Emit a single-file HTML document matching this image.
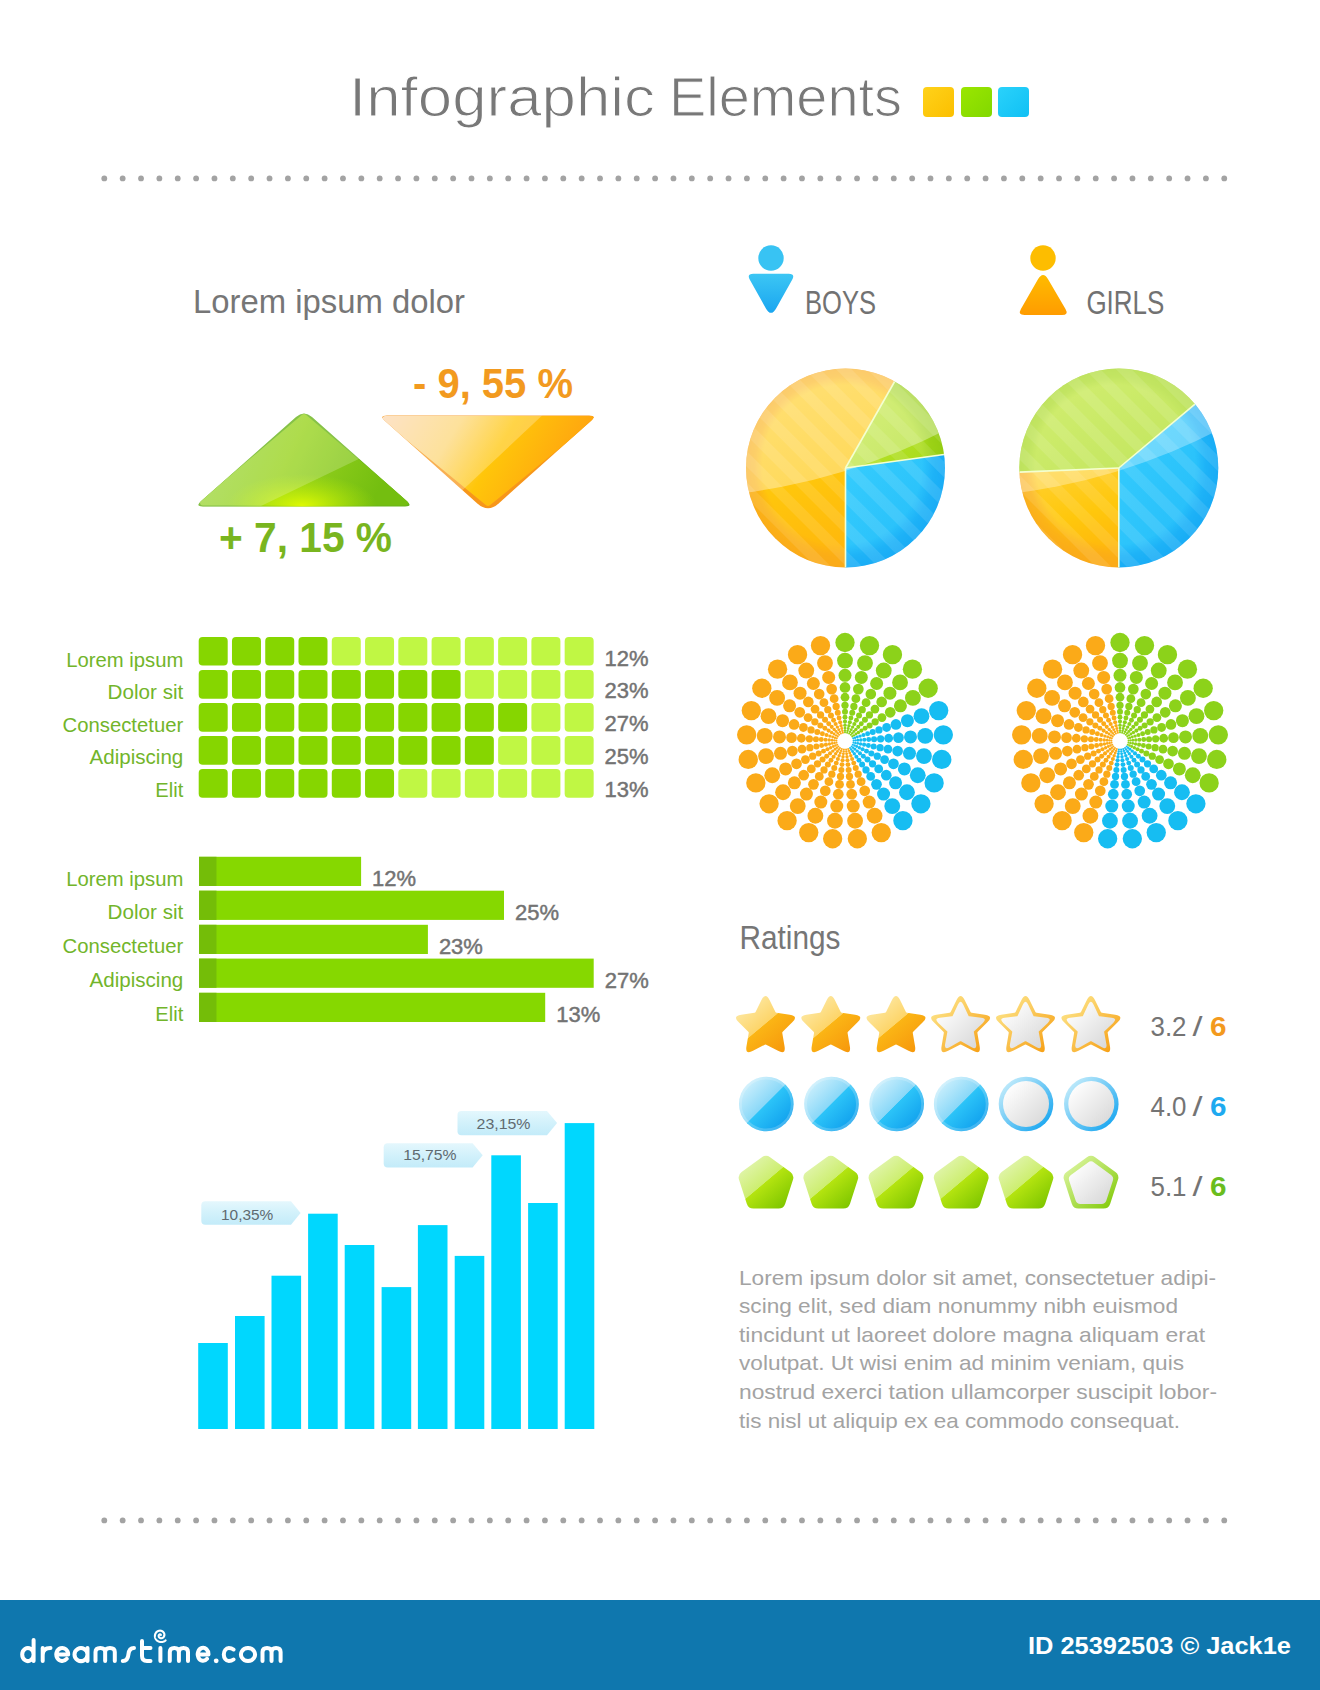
<!DOCTYPE html><html><head><meta charset="utf-8"><style>html,body{margin:0;padding:0;background:#fff;width:1320px;height:1690px;overflow:hidden}</style></head><body><svg width="1320" height="1690" viewBox="0 0 1320 1690" style="display:block;font-family:'Liberation Sans', sans-serif">
<defs>
<linearGradient id="gOrTri" x1="0" y1="0" x2="1" y2="0.25">
 <stop offset="0" stop-color="#fdd9b0"/><stop offset="0.35" stop-color="#fdd77a"/><stop offset="0.6" stop-color="#ffc60a"/><stop offset="1" stop-color="#ffa210"/></linearGradient>
<linearGradient id="gGrTri" x1="0" y1="0" x2="1" y2="0.2">
 <stop offset="0" stop-color="#a2d850"/><stop offset="0.5" stop-color="#9ad420"/><stop offset="1" stop-color="#74be10"/></linearGradient>
<radialGradient id="gGrGlow" cx="0.5" cy="0.5" r="0.5">
 <stop offset="0" stop-color="#e8ff00" stop-opacity="0.9"/><stop offset="1" stop-color="#c0f000" stop-opacity="0"/></radialGradient>
<linearGradient id="gSqY" x1="0" y1="0" x2="1" y2="1"><stop offset="0" stop-color="#ffd21a"/><stop offset="1" stop-color="#fbbf00"/></linearGradient>
<linearGradient id="gSqG" x1="0" y1="0" x2="1" y2="1"><stop offset="0" stop-color="#9ae600"/><stop offset="1" stop-color="#82d800"/></linearGradient>
<linearGradient id="gSqB" x1="0" y1="0" x2="1" y2="1"><stop offset="0" stop-color="#2ad2fb"/><stop offset="1" stop-color="#10c0f4"/></linearGradient>
<linearGradient id="gBoyT" x1="0" y1="0" x2="0" y2="1"><stop offset="0" stop-color="#3cc6f4"/><stop offset="1" stop-color="#1aa6f0"/></linearGradient>
<linearGradient id="gGirlT" x1="0" y1="0" x2="0" y2="1"><stop offset="0" stop-color="#ffbb00"/><stop offset="1" stop-color="#ff9c00"/></linearGradient>
</defs>
<text x="349" y="116" font-size="55" fill="#787878" font-weight="normal" text-anchor="start" textLength="306" lengthAdjust="spacingAndGlyphs" stroke="#ffffff" stroke-width="1.1">Infographic</text>
<text x="669" y="116" font-size="55" fill="#787878" font-weight="normal" text-anchor="start" textLength="233" lengthAdjust="spacingAndGlyphs" stroke="#ffffff" stroke-width="1.1">Elements</text>
<rect x="923" y="87" width="31" height="30" rx="4" fill="url(#gSqY)"/>
<rect x="961" y="87" width="31" height="30" rx="4" fill="url(#gSqG)"/>
<rect x="998" y="87" width="31" height="30" rx="4" fill="url(#gSqB)"/>
<circle cx="104.30" cy="178.4" r="2.9" fill="#a3a3a3"/>
<circle cx="122.66" cy="178.4" r="2.9" fill="#a3a3a3"/>
<circle cx="141.02" cy="178.4" r="2.9" fill="#a3a3a3"/>
<circle cx="159.38" cy="178.4" r="2.9" fill="#a3a3a3"/>
<circle cx="177.74" cy="178.4" r="2.9" fill="#a3a3a3"/>
<circle cx="196.10" cy="178.4" r="2.9" fill="#a3a3a3"/>
<circle cx="214.46" cy="178.4" r="2.9" fill="#a3a3a3"/>
<circle cx="232.82" cy="178.4" r="2.9" fill="#a3a3a3"/>
<circle cx="251.18" cy="178.4" r="2.9" fill="#a3a3a3"/>
<circle cx="269.54" cy="178.4" r="2.9" fill="#a3a3a3"/>
<circle cx="287.90" cy="178.4" r="2.9" fill="#a3a3a3"/>
<circle cx="306.26" cy="178.4" r="2.9" fill="#a3a3a3"/>
<circle cx="324.62" cy="178.4" r="2.9" fill="#a3a3a3"/>
<circle cx="342.98" cy="178.4" r="2.9" fill="#a3a3a3"/>
<circle cx="361.34" cy="178.4" r="2.9" fill="#a3a3a3"/>
<circle cx="379.70" cy="178.4" r="2.9" fill="#a3a3a3"/>
<circle cx="398.06" cy="178.4" r="2.9" fill="#a3a3a3"/>
<circle cx="416.42" cy="178.4" r="2.9" fill="#a3a3a3"/>
<circle cx="434.78" cy="178.4" r="2.9" fill="#a3a3a3"/>
<circle cx="453.14" cy="178.4" r="2.9" fill="#a3a3a3"/>
<circle cx="471.50" cy="178.4" r="2.9" fill="#a3a3a3"/>
<circle cx="489.86" cy="178.4" r="2.9" fill="#a3a3a3"/>
<circle cx="508.22" cy="178.4" r="2.9" fill="#a3a3a3"/>
<circle cx="526.58" cy="178.4" r="2.9" fill="#a3a3a3"/>
<circle cx="544.94" cy="178.4" r="2.9" fill="#a3a3a3"/>
<circle cx="563.30" cy="178.4" r="2.9" fill="#a3a3a3"/>
<circle cx="581.66" cy="178.4" r="2.9" fill="#a3a3a3"/>
<circle cx="600.02" cy="178.4" r="2.9" fill="#a3a3a3"/>
<circle cx="618.38" cy="178.4" r="2.9" fill="#a3a3a3"/>
<circle cx="636.74" cy="178.4" r="2.9" fill="#a3a3a3"/>
<circle cx="655.10" cy="178.4" r="2.9" fill="#a3a3a3"/>
<circle cx="673.46" cy="178.4" r="2.9" fill="#a3a3a3"/>
<circle cx="691.82" cy="178.4" r="2.9" fill="#a3a3a3"/>
<circle cx="710.18" cy="178.4" r="2.9" fill="#a3a3a3"/>
<circle cx="728.54" cy="178.4" r="2.9" fill="#a3a3a3"/>
<circle cx="746.90" cy="178.4" r="2.9" fill="#a3a3a3"/>
<circle cx="765.26" cy="178.4" r="2.9" fill="#a3a3a3"/>
<circle cx="783.62" cy="178.4" r="2.9" fill="#a3a3a3"/>
<circle cx="801.98" cy="178.4" r="2.9" fill="#a3a3a3"/>
<circle cx="820.34" cy="178.4" r="2.9" fill="#a3a3a3"/>
<circle cx="838.70" cy="178.4" r="2.9" fill="#a3a3a3"/>
<circle cx="857.06" cy="178.4" r="2.9" fill="#a3a3a3"/>
<circle cx="875.42" cy="178.4" r="2.9" fill="#a3a3a3"/>
<circle cx="893.78" cy="178.4" r="2.9" fill="#a3a3a3"/>
<circle cx="912.14" cy="178.4" r="2.9" fill="#a3a3a3"/>
<circle cx="930.50" cy="178.4" r="2.9" fill="#a3a3a3"/>
<circle cx="948.86" cy="178.4" r="2.9" fill="#a3a3a3"/>
<circle cx="967.22" cy="178.4" r="2.9" fill="#a3a3a3"/>
<circle cx="985.58" cy="178.4" r="2.9" fill="#a3a3a3"/>
<circle cx="1003.94" cy="178.4" r="2.9" fill="#a3a3a3"/>
<circle cx="1022.30" cy="178.4" r="2.9" fill="#a3a3a3"/>
<circle cx="1040.66" cy="178.4" r="2.9" fill="#a3a3a3"/>
<circle cx="1059.02" cy="178.4" r="2.9" fill="#a3a3a3"/>
<circle cx="1077.38" cy="178.4" r="2.9" fill="#a3a3a3"/>
<circle cx="1095.74" cy="178.4" r="2.9" fill="#a3a3a3"/>
<circle cx="1114.10" cy="178.4" r="2.9" fill="#a3a3a3"/>
<circle cx="1132.46" cy="178.4" r="2.9" fill="#a3a3a3"/>
<circle cx="1150.82" cy="178.4" r="2.9" fill="#a3a3a3"/>
<circle cx="1169.18" cy="178.4" r="2.9" fill="#a3a3a3"/>
<circle cx="1187.54" cy="178.4" r="2.9" fill="#a3a3a3"/>
<circle cx="1205.90" cy="178.4" r="2.9" fill="#a3a3a3"/>
<circle cx="1224.26" cy="178.4" r="2.9" fill="#a3a3a3"/>
<circle cx="104.30" cy="1520.4" r="2.9" fill="#a3a3a3"/>
<circle cx="122.66" cy="1520.4" r="2.9" fill="#a3a3a3"/>
<circle cx="141.02" cy="1520.4" r="2.9" fill="#a3a3a3"/>
<circle cx="159.38" cy="1520.4" r="2.9" fill="#a3a3a3"/>
<circle cx="177.74" cy="1520.4" r="2.9" fill="#a3a3a3"/>
<circle cx="196.10" cy="1520.4" r="2.9" fill="#a3a3a3"/>
<circle cx="214.46" cy="1520.4" r="2.9" fill="#a3a3a3"/>
<circle cx="232.82" cy="1520.4" r="2.9" fill="#a3a3a3"/>
<circle cx="251.18" cy="1520.4" r="2.9" fill="#a3a3a3"/>
<circle cx="269.54" cy="1520.4" r="2.9" fill="#a3a3a3"/>
<circle cx="287.90" cy="1520.4" r="2.9" fill="#a3a3a3"/>
<circle cx="306.26" cy="1520.4" r="2.9" fill="#a3a3a3"/>
<circle cx="324.62" cy="1520.4" r="2.9" fill="#a3a3a3"/>
<circle cx="342.98" cy="1520.4" r="2.9" fill="#a3a3a3"/>
<circle cx="361.34" cy="1520.4" r="2.9" fill="#a3a3a3"/>
<circle cx="379.70" cy="1520.4" r="2.9" fill="#a3a3a3"/>
<circle cx="398.06" cy="1520.4" r="2.9" fill="#a3a3a3"/>
<circle cx="416.42" cy="1520.4" r="2.9" fill="#a3a3a3"/>
<circle cx="434.78" cy="1520.4" r="2.9" fill="#a3a3a3"/>
<circle cx="453.14" cy="1520.4" r="2.9" fill="#a3a3a3"/>
<circle cx="471.50" cy="1520.4" r="2.9" fill="#a3a3a3"/>
<circle cx="489.86" cy="1520.4" r="2.9" fill="#a3a3a3"/>
<circle cx="508.22" cy="1520.4" r="2.9" fill="#a3a3a3"/>
<circle cx="526.58" cy="1520.4" r="2.9" fill="#a3a3a3"/>
<circle cx="544.94" cy="1520.4" r="2.9" fill="#a3a3a3"/>
<circle cx="563.30" cy="1520.4" r="2.9" fill="#a3a3a3"/>
<circle cx="581.66" cy="1520.4" r="2.9" fill="#a3a3a3"/>
<circle cx="600.02" cy="1520.4" r="2.9" fill="#a3a3a3"/>
<circle cx="618.38" cy="1520.4" r="2.9" fill="#a3a3a3"/>
<circle cx="636.74" cy="1520.4" r="2.9" fill="#a3a3a3"/>
<circle cx="655.10" cy="1520.4" r="2.9" fill="#a3a3a3"/>
<circle cx="673.46" cy="1520.4" r="2.9" fill="#a3a3a3"/>
<circle cx="691.82" cy="1520.4" r="2.9" fill="#a3a3a3"/>
<circle cx="710.18" cy="1520.4" r="2.9" fill="#a3a3a3"/>
<circle cx="728.54" cy="1520.4" r="2.9" fill="#a3a3a3"/>
<circle cx="746.90" cy="1520.4" r="2.9" fill="#a3a3a3"/>
<circle cx="765.26" cy="1520.4" r="2.9" fill="#a3a3a3"/>
<circle cx="783.62" cy="1520.4" r="2.9" fill="#a3a3a3"/>
<circle cx="801.98" cy="1520.4" r="2.9" fill="#a3a3a3"/>
<circle cx="820.34" cy="1520.4" r="2.9" fill="#a3a3a3"/>
<circle cx="838.70" cy="1520.4" r="2.9" fill="#a3a3a3"/>
<circle cx="857.06" cy="1520.4" r="2.9" fill="#a3a3a3"/>
<circle cx="875.42" cy="1520.4" r="2.9" fill="#a3a3a3"/>
<circle cx="893.78" cy="1520.4" r="2.9" fill="#a3a3a3"/>
<circle cx="912.14" cy="1520.4" r="2.9" fill="#a3a3a3"/>
<circle cx="930.50" cy="1520.4" r="2.9" fill="#a3a3a3"/>
<circle cx="948.86" cy="1520.4" r="2.9" fill="#a3a3a3"/>
<circle cx="967.22" cy="1520.4" r="2.9" fill="#a3a3a3"/>
<circle cx="985.58" cy="1520.4" r="2.9" fill="#a3a3a3"/>
<circle cx="1003.94" cy="1520.4" r="2.9" fill="#a3a3a3"/>
<circle cx="1022.30" cy="1520.4" r="2.9" fill="#a3a3a3"/>
<circle cx="1040.66" cy="1520.4" r="2.9" fill="#a3a3a3"/>
<circle cx="1059.02" cy="1520.4" r="2.9" fill="#a3a3a3"/>
<circle cx="1077.38" cy="1520.4" r="2.9" fill="#a3a3a3"/>
<circle cx="1095.74" cy="1520.4" r="2.9" fill="#a3a3a3"/>
<circle cx="1114.10" cy="1520.4" r="2.9" fill="#a3a3a3"/>
<circle cx="1132.46" cy="1520.4" r="2.9" fill="#a3a3a3"/>
<circle cx="1150.82" cy="1520.4" r="2.9" fill="#a3a3a3"/>
<circle cx="1169.18" cy="1520.4" r="2.9" fill="#a3a3a3"/>
<circle cx="1187.54" cy="1520.4" r="2.9" fill="#a3a3a3"/>
<circle cx="1205.90" cy="1520.4" r="2.9" fill="#a3a3a3"/>
<circle cx="1224.26" cy="1520.4" r="2.9" fill="#a3a3a3"/>
<text x="193" y="313" font-size="33" fill="#767676" font-weight="normal" text-anchor="start" textLength="272" lengthAdjust="spacingAndGlyphs">Lorem ipsum dolor</text>
<defs><clipPath id="cOr"><path d="M384.85,420.74 Q379.00,415.50 386.85,415.50 L589.15,415.50 Q597.00,415.50 591.15,420.74 L498.67,503.46 Q488.00,513.00 477.33,503.46 Z"/></clipPath><clipPath id="cGr"><path d="M296.05,417.04 Q304.00,410.00 311.95,417.04 L407.07,501.25 Q413.00,506.50 405.09,506.50 L202.91,506.50 Q195.00,506.50 200.93,501.25 Z"/></clipPath></defs>
<path d="M384.85,420.74 Q379.00,415.50 386.85,415.50 L589.15,415.50 Q597.00,415.50 591.15,420.74 L498.67,503.46 Q488.00,513.00 477.33,503.46 Z" fill="#f7961a"/>
<g clip-path="url(#cOr)"><path d="M385.5,419 L591,419 L488,503 Z" fill="url(#gOrTri)" stroke="url(#gOrTri)" stroke-width="6" stroke-linejoin="round"/><path d="M370,410 L548,410 L452,500 L370,500 Z" fill="#fff" fill-opacity="0.25"/></g>
<path d="M296.05,417.04 Q304.00,410.00 311.95,417.04 L407.07,501.25 Q413.00,506.50 405.09,506.50 L202.91,506.50 Q195.00,506.50 200.93,501.25 Z" fill="#68b31a"/>
<g clip-path="url(#cGr)"><path d="M304,417 L405,502.5 L203,502.5 Z" fill="url(#gGrTri)" stroke="url(#gGrTri)" stroke-width="6" stroke-linejoin="round"/><ellipse cx="302" cy="506" rx="75" ry="32" fill="url(#gGrGlow)"/><path d="M300,405 L365,456 L261,506 L190,506 L190,405 Z" fill="#fff" fill-opacity="0.2"/></g>
<text x="413" y="398" font-size="42" fill="#f29a1f" font-weight="bold" text-anchor="start" textLength="160" lengthAdjust="spacingAndGlyphs">- 9, 55 %</text>
<text x="219" y="552" font-size="42" fill="#79b51f" font-weight="bold" text-anchor="start" textLength="173" lengthAdjust="spacingAndGlyphs">+ 7, 15 %</text>
<circle cx="771" cy="258" r="12.7" fill="#38c3f3"/>
<path d="M749.84,279.76 Q746.50,273.80 753.33,273.80 L788.67,273.80 Q795.50,273.80 792.16,279.76 L776.23,308.16 Q771.00,317.50 765.77,308.16 Z" fill="url(#gBoyT)"/>
<circle cx="1043" cy="258" r="12.7" fill="#fdbd00"/>
<path d="M1037.84,279.50 Q1043.00,270.50 1048.23,279.45 L1065.48,308.98 Q1069.00,315.00 1062.03,315.00 L1024.40,315.00 Q1017.50,315.00 1020.93,309.01 Z" fill="url(#gGirlT)"/>
<text x="805" y="313.6" font-size="33" fill="#727272" font-weight="normal" text-anchor="start" textLength="71" lengthAdjust="spacingAndGlyphs">BOYS</text>
<text x="1086.4" y="313.6" font-size="33" fill="#727272" font-weight="normal" text-anchor="start" textLength="78" lengthAdjust="spacingAndGlyphs">GIRLS</text>
<defs>
<linearGradient id="pOr" x1="0" y1="0" x2="0.3" y2="1"><stop offset="0" stop-color="#ffd234"/><stop offset="0.6" stop-color="#ffc70c"/><stop offset="1" stop-color="#ffb80c"/></linearGradient>
<linearGradient id="pGr" x1="0" y1="0" x2="1" y2="1"><stop offset="0" stop-color="#c2e838"/><stop offset="1" stop-color="#a6da16"/></linearGradient>
<linearGradient id="pBl" x1="0" y1="0" x2="1" y2="1"><stop offset="0" stop-color="#36cdfd"/><stop offset="1" stop-color="#22baf9"/></linearGradient>
<radialGradient id="pRim" cx="0.5" cy="0.5" r="0.5"><stop offset="0.82" stop-color="#000" stop-opacity="0"/><stop offset="0.86" stop-color="#ff8000" stop-opacity="0.10"/><stop offset="1" stop-color="#ff6000" stop-opacity="0.12"/></radialGradient>
<radialGradient id="rimMask" cx="0.5" cy="0.5" r="0.5" fx="0.42" fy="0.42"><stop offset="0.8" stop-color="#fff"/><stop offset="0.9" stop-color="#fff" stop-opacity="0.45"/><stop offset="1" stop-color="#fff" stop-opacity="0.25"/></radialGradient>
<pattern id="stripes" width="22" height="22" patternUnits="userSpaceOnUse" patternTransform="rotate(-45)"><rect width="11" height="22" fill="#fff" fill-opacity="0.10"/></pattern>
</defs>
<clipPath id="clipB"><circle cx="845.5" cy="468" r="99.5"/></clipPath>
<g clip-path="url(#clipB)">
<path d="M845.5,468 L895.14,380.62 A100.5,100.5 0 1 0 845.50,568.50 Z" fill="#f9a61e"/>
<path d="M845.5,468 L945.07,454.36 A100.5,100.5 0 0 0 895.14,380.62 Z" fill="#8ec810"/>
<path d="M845.5,468 L845.50,568.50 A100.5,100.5 0 0 0 945.07,454.36 Z" fill="#14a6f4"/>
<mask id="mclipB"><circle cx="845.5" cy="468" r="99.5" fill="url(#rimMask)"/></mask><g mask="url(#mclipB)">
<path d="M845.5,468 L895.14,380.62 A100.5,100.5 0 1 0 845.50,568.50 Z" fill="url(#pOr)"/>
<path d="M845.5,468 L945.07,454.36 A100.5,100.5 0 0 0 895.14,380.62 Z" fill="url(#pGr)"/>
<path d="M845.5,468 L845.50,568.50 A100.5,100.5 0 0 0 945.07,454.36 Z" fill="url(#pBl)"/>
</g>
<rect x="746.0" y="368.5" width="199.0" height="199.0" fill="url(#stripes)"/>
<circle cx="665.5" cy="-112" r="610" fill="#fff" fill-opacity="0.34"/>
<line x1="845.5" y1="468" x2="894.65" y2="381.49" stroke="#f4ffd0" stroke-width="1.6"/>
<line x1="845.5" y1="468" x2="944.08" y2="454.50" stroke="#f4ffd0" stroke-width="1.6"/>
<line x1="845.5" y1="468" x2="845.50" y2="567.50" stroke="#f4ffd0" stroke-width="1.6"/>
</g>
<clipPath id="clipG"><circle cx="1118.8" cy="468" r="99.5"/></clipPath>
<g clip-path="url(#clipG)">
<path d="M1118.8,468 L1195.79,403.40 A100.5,100.5 0 0 0 1018.39,472.21 Z" fill="#9cd214"/>
<path d="M1118.8,468 L1018.39,472.21 A100.5,100.5 0 0 0 1118.80,568.50 Z" fill="#f9a61e"/>
<path d="M1118.8,468 L1118.80,568.50 A100.5,100.5 0 0 0 1195.79,403.40 Z" fill="#14a6f4"/>
<mask id="mclipG"><circle cx="1118.8" cy="468" r="99.5" fill="url(#rimMask)"/></mask><g mask="url(#mclipG)">
<path d="M1118.8,468 L1195.79,403.40 A100.5,100.5 0 0 0 1018.39,472.21 Z" fill="url(#pGr)"/>
<path d="M1118.8,468 L1018.39,472.21 A100.5,100.5 0 0 0 1118.80,568.50 Z" fill="url(#pOr)"/>
<path d="M1118.8,468 L1118.80,568.50 A100.5,100.5 0 0 0 1195.79,403.40 Z" fill="url(#pBl)"/>
</g>
<rect x="1019.3" y="368.5" width="199.0" height="199.0" fill="url(#stripes)"/>
<circle cx="938.8" cy="-112" r="610" fill="#fff" fill-opacity="0.30"/>
<line x1="1118.8" y1="468" x2="1195.02" y2="404.04" stroke="#f4ffd0" stroke-width="1.6"/>
<line x1="1118.8" y1="468" x2="1019.39" y2="472.17" stroke="#f4ffd0" stroke-width="1.6"/>
<line x1="1118.8" y1="468" x2="1118.80" y2="567.50" stroke="#f4ffd0" stroke-width="1.6"/>
</g>
<circle cx="845.00" cy="642.50" r="9.66" fill="#8cd21a"/>
<circle cx="845.00" cy="660.59" r="7.92" fill="#8cd21a"/>
<circle cx="845.00" cy="675.36" r="6.50" fill="#8cd21a"/>
<circle cx="845.00" cy="687.42" r="5.34" fill="#8cd21a"/>
<circle cx="845.00" cy="697.26" r="4.40" fill="#8cd21a"/>
<circle cx="845.00" cy="705.29" r="3.63" fill="#8cd21a"/>
<circle cx="845.00" cy="711.85" r="3.00" fill="#8cd21a"/>
<circle cx="845.00" cy="717.21" r="2.48" fill="#8cd21a"/>
<circle cx="845.00" cy="721.58" r="2.06" fill="#8cd21a"/>
<circle cx="845.00" cy="725.14" r="1.72" fill="#8cd21a"/>
<circle cx="845.00" cy="728.06" r="1.44" fill="#8cd21a"/>
<circle cx="845.00" cy="730.43" r="1.21" fill="#8cd21a"/>
<circle cx="845.00" cy="732.37" r="1.03" fill="#8cd21a"/>
<circle cx="869.50" cy="645.59" r="9.66" fill="#8cd21a"/>
<circle cx="865.00" cy="663.12" r="7.92" fill="#8cd21a"/>
<circle cx="861.32" cy="677.42" r="6.50" fill="#8cd21a"/>
<circle cx="858.33" cy="689.10" r="5.34" fill="#8cd21a"/>
<circle cx="855.88" cy="698.63" r="4.40" fill="#8cd21a"/>
<circle cx="853.88" cy="706.41" r="3.63" fill="#8cd21a"/>
<circle cx="852.25" cy="712.77" r="3.00" fill="#8cd21a"/>
<circle cx="850.92" cy="717.95" r="2.48" fill="#8cd21a"/>
<circle cx="849.83" cy="722.19" r="2.06" fill="#8cd21a"/>
<circle cx="848.94" cy="725.64" r="1.72" fill="#8cd21a"/>
<circle cx="848.22" cy="728.46" r="1.44" fill="#8cd21a"/>
<circle cx="847.63" cy="730.77" r="1.21" fill="#8cd21a"/>
<circle cx="847.15" cy="732.65" r="1.03" fill="#8cd21a"/>
<circle cx="892.45" cy="654.68" r="9.66" fill="#8cd21a"/>
<circle cx="883.74" cy="670.54" r="7.92" fill="#8cd21a"/>
<circle cx="876.62" cy="683.48" r="6.50" fill="#8cd21a"/>
<circle cx="870.81" cy="694.04" r="5.34" fill="#8cd21a"/>
<circle cx="866.07" cy="702.67" r="4.40" fill="#8cd21a"/>
<circle cx="862.20" cy="709.71" r="3.63" fill="#8cd21a"/>
<circle cx="859.04" cy="715.46" r="3.00" fill="#8cd21a"/>
<circle cx="856.46" cy="720.15" r="2.48" fill="#8cd21a"/>
<circle cx="854.36" cy="723.98" r="2.06" fill="#8cd21a"/>
<circle cx="852.64" cy="727.10" r="1.72" fill="#8cd21a"/>
<circle cx="851.24" cy="729.66" r="1.44" fill="#8cd21a"/>
<circle cx="850.09" cy="731.74" r="1.21" fill="#8cd21a"/>
<circle cx="849.16" cy="733.44" r="1.03" fill="#8cd21a"/>
<circle cx="912.43" cy="669.20" r="9.66" fill="#8cd21a"/>
<circle cx="900.04" cy="682.38" r="7.92" fill="#8cd21a"/>
<circle cx="889.93" cy="693.15" r="6.50" fill="#8cd21a"/>
<circle cx="881.68" cy="701.94" r="5.34" fill="#8cd21a"/>
<circle cx="874.94" cy="709.11" r="4.40" fill="#8cd21a"/>
<circle cx="869.44" cy="714.97" r="3.63" fill="#8cd21a"/>
<circle cx="864.95" cy="719.75" r="3.00" fill="#8cd21a"/>
<circle cx="861.29" cy="723.65" r="2.48" fill="#8cd21a"/>
<circle cx="858.30" cy="726.84" r="2.06" fill="#8cd21a"/>
<circle cx="855.85" cy="729.44" r="1.72" fill="#8cd21a"/>
<circle cx="853.86" cy="731.56" r="1.44" fill="#8cd21a"/>
<circle cx="852.23" cy="733.30" r="1.21" fill="#8cd21a"/>
<circle cx="850.90" cy="734.71" r="1.03" fill="#8cd21a"/>
<circle cx="928.17" cy="688.22" r="9.66" fill="#8cd21a"/>
<circle cx="912.89" cy="697.92" r="7.92" fill="#8cd21a"/>
<circle cx="900.42" cy="705.83" r="6.50" fill="#8cd21a"/>
<circle cx="890.24" cy="712.29" r="5.34" fill="#8cd21a"/>
<circle cx="881.93" cy="717.56" r="4.40" fill="#8cd21a"/>
<circle cx="875.15" cy="721.87" r="3.63" fill="#8cd21a"/>
<circle cx="869.61" cy="725.38" r="3.00" fill="#8cd21a"/>
<circle cx="865.09" cy="728.25" r="2.48" fill="#8cd21a"/>
<circle cx="861.40" cy="730.59" r="2.06" fill="#8cd21a"/>
<circle cx="858.39" cy="732.50" r="1.72" fill="#8cd21a"/>
<circle cx="855.93" cy="734.06" r="1.44" fill="#8cd21a"/>
<circle cx="853.92" cy="735.34" r="1.21" fill="#8cd21a"/>
<circle cx="852.28" cy="736.38" r="1.03" fill="#8cd21a"/>
<circle cx="938.68" cy="710.56" r="9.66" fill="#16bdf2"/>
<circle cx="921.47" cy="716.15" r="7.92" fill="#16bdf2"/>
<circle cx="907.43" cy="720.72" r="6.50" fill="#16bdf2"/>
<circle cx="895.96" cy="724.44" r="5.34" fill="#16bdf2"/>
<circle cx="886.60" cy="727.48" r="4.40" fill="#16bdf2"/>
<circle cx="878.96" cy="729.97" r="3.63" fill="#16bdf2"/>
<circle cx="872.72" cy="731.99" r="3.00" fill="#16bdf2"/>
<circle cx="867.63" cy="733.65" r="2.48" fill="#16bdf2"/>
<circle cx="863.47" cy="735.00" r="2.06" fill="#16bdf2"/>
<circle cx="860.08" cy="736.10" r="1.72" fill="#16bdf2"/>
<circle cx="857.31" cy="737.00" r="1.44" fill="#16bdf2"/>
<circle cx="855.05" cy="737.73" r="1.21" fill="#16bdf2"/>
<circle cx="853.20" cy="738.33" r="1.03" fill="#16bdf2"/>
<circle cx="943.31" cy="734.82" r="9.66" fill="#16bdf2"/>
<circle cx="925.25" cy="735.95" r="7.92" fill="#16bdf2"/>
<circle cx="910.51" cy="736.88" r="6.50" fill="#16bdf2"/>
<circle cx="898.48" cy="737.64" r="5.34" fill="#16bdf2"/>
<circle cx="888.66" cy="738.25" r="4.40" fill="#16bdf2"/>
<circle cx="880.64" cy="738.76" r="3.63" fill="#16bdf2"/>
<circle cx="874.09" cy="739.17" r="3.00" fill="#16bdf2"/>
<circle cx="868.75" cy="739.51" r="2.48" fill="#16bdf2"/>
<circle cx="864.39" cy="739.78" r="2.06" fill="#16bdf2"/>
<circle cx="860.83" cy="740.00" r="1.72" fill="#16bdf2"/>
<circle cx="857.92" cy="740.19" r="1.44" fill="#16bdf2"/>
<circle cx="855.55" cy="740.34" r="1.21" fill="#16bdf2"/>
<circle cx="853.61" cy="740.46" r="1.03" fill="#16bdf2"/>
<circle cx="941.76" cy="759.46" r="9.66" fill="#16bdf2"/>
<circle cx="923.98" cy="756.07" r="7.92" fill="#16bdf2"/>
<circle cx="909.48" cy="753.30" r="6.50" fill="#16bdf2"/>
<circle cx="897.63" cy="751.04" r="5.34" fill="#16bdf2"/>
<circle cx="887.97" cy="749.20" r="4.40" fill="#16bdf2"/>
<circle cx="880.07" cy="747.69" r="3.63" fill="#16bdf2"/>
<circle cx="873.63" cy="746.46" r="3.00" fill="#16bdf2"/>
<circle cx="868.37" cy="745.46" r="2.48" fill="#16bdf2"/>
<circle cx="864.08" cy="744.64" r="2.06" fill="#16bdf2"/>
<circle cx="860.58" cy="743.97" r="1.72" fill="#16bdf2"/>
<circle cx="857.71" cy="743.43" r="1.44" fill="#16bdf2"/>
<circle cx="855.38" cy="742.98" r="1.21" fill="#16bdf2"/>
<circle cx="853.47" cy="742.62" r="1.03" fill="#16bdf2"/>
<circle cx="934.13" cy="782.94" r="9.66" fill="#16bdf2"/>
<circle cx="917.76" cy="775.24" r="7.92" fill="#16bdf2"/>
<circle cx="904.39" cy="768.95" r="6.50" fill="#16bdf2"/>
<circle cx="893.48" cy="763.81" r="5.34" fill="#16bdf2"/>
<circle cx="884.58" cy="759.62" r="4.40" fill="#16bdf2"/>
<circle cx="877.31" cy="756.20" r="3.63" fill="#16bdf2"/>
<circle cx="871.37" cy="753.41" r="3.00" fill="#16bdf2"/>
<circle cx="866.53" cy="751.13" r="2.48" fill="#16bdf2"/>
<circle cx="862.58" cy="749.27" r="2.06" fill="#16bdf2"/>
<circle cx="859.35" cy="747.75" r="1.72" fill="#16bdf2"/>
<circle cx="856.71" cy="746.51" r="1.44" fill="#16bdf2"/>
<circle cx="854.56" cy="745.50" r="1.21" fill="#16bdf2"/>
<circle cx="852.80" cy="744.67" r="1.03" fill="#16bdf2"/>
<circle cx="920.90" cy="803.79" r="9.66" fill="#16bdf2"/>
<circle cx="906.96" cy="792.25" r="7.92" fill="#16bdf2"/>
<circle cx="895.58" cy="782.84" r="6.50" fill="#16bdf2"/>
<circle cx="886.29" cy="775.16" r="5.34" fill="#16bdf2"/>
<circle cx="878.70" cy="768.88" r="4.40" fill="#16bdf2"/>
<circle cx="872.51" cy="763.76" r="3.63" fill="#16bdf2"/>
<circle cx="867.46" cy="759.58" r="3.00" fill="#16bdf2"/>
<circle cx="863.33" cy="756.17" r="2.48" fill="#16bdf2"/>
<circle cx="859.97" cy="753.38" r="2.06" fill="#16bdf2"/>
<circle cx="857.22" cy="751.11" r="1.72" fill="#16bdf2"/>
<circle cx="854.97" cy="749.25" r="1.44" fill="#16bdf2"/>
<circle cx="853.14" cy="747.74" r="1.21" fill="#16bdf2"/>
<circle cx="851.65" cy="746.50" r="1.03" fill="#16bdf2"/>
<circle cx="902.90" cy="820.69" r="9.66" fill="#16bdf2"/>
<circle cx="892.26" cy="806.05" r="7.92" fill="#16bdf2"/>
<circle cx="883.58" cy="794.10" r="6.50" fill="#16bdf2"/>
<circle cx="876.50" cy="784.35" r="5.34" fill="#16bdf2"/>
<circle cx="870.71" cy="776.39" r="4.40" fill="#16bdf2"/>
<circle cx="865.99" cy="769.89" r="3.63" fill="#16bdf2"/>
<circle cx="862.13" cy="764.58" r="3.00" fill="#16bdf2"/>
<circle cx="858.99" cy="760.25" r="2.48" fill="#16bdf2"/>
<circle cx="856.42" cy="756.71" r="2.06" fill="#16bdf2"/>
<circle cx="854.32" cy="753.83" r="1.72" fill="#16bdf2"/>
<circle cx="852.61" cy="751.47" r="1.44" fill="#16bdf2"/>
<circle cx="851.21" cy="749.55" r="1.21" fill="#16bdf2"/>
<circle cx="850.07" cy="747.98" r="1.03" fill="#16bdf2"/>
<circle cx="881.26" cy="832.58" r="9.66" fill="#fbaa18"/>
<circle cx="874.60" cy="815.76" r="7.92" fill="#fbaa18"/>
<circle cx="869.16" cy="802.03" r="6.50" fill="#fbaa18"/>
<circle cx="864.73" cy="790.82" r="5.34" fill="#fbaa18"/>
<circle cx="861.10" cy="781.67" r="4.40" fill="#fbaa18"/>
<circle cx="858.14" cy="774.20" r="3.63" fill="#fbaa18"/>
<circle cx="855.73" cy="768.10" r="3.00" fill="#fbaa18"/>
<circle cx="853.76" cy="763.12" r="2.48" fill="#fbaa18"/>
<circle cx="852.15" cy="759.06" r="2.06" fill="#fbaa18"/>
<circle cx="850.84" cy="755.74" r="1.72" fill="#fbaa18"/>
<circle cx="849.77" cy="753.04" r="1.44" fill="#fbaa18"/>
<circle cx="848.89" cy="750.82" r="1.21" fill="#fbaa18"/>
<circle cx="848.18" cy="749.02" r="1.03" fill="#fbaa18"/>
<circle cx="857.35" cy="838.72" r="9.66" fill="#fbaa18"/>
<circle cx="855.08" cy="820.77" r="7.92" fill="#fbaa18"/>
<circle cx="853.23" cy="806.12" r="6.50" fill="#fbaa18"/>
<circle cx="851.72" cy="794.16" r="5.34" fill="#fbaa18"/>
<circle cx="850.48" cy="784.40" r="4.40" fill="#fbaa18"/>
<circle cx="849.48" cy="776.43" r="3.63" fill="#fbaa18"/>
<circle cx="848.65" cy="769.92" r="3.00" fill="#fbaa18"/>
<circle cx="847.98" cy="764.61" r="2.48" fill="#fbaa18"/>
<circle cx="847.43" cy="760.27" r="2.06" fill="#fbaa18"/>
<circle cx="846.99" cy="756.73" r="1.72" fill="#fbaa18"/>
<circle cx="846.62" cy="753.84" r="1.44" fill="#fbaa18"/>
<circle cx="846.32" cy="751.48" r="1.21" fill="#fbaa18"/>
<circle cx="846.08" cy="749.56" r="1.03" fill="#fbaa18"/>
<circle cx="832.65" cy="838.72" r="9.66" fill="#fbaa18"/>
<circle cx="834.92" cy="820.77" r="7.92" fill="#fbaa18"/>
<circle cx="836.77" cy="806.12" r="6.50" fill="#fbaa18"/>
<circle cx="838.28" cy="794.16" r="5.34" fill="#fbaa18"/>
<circle cx="839.52" cy="784.40" r="4.40" fill="#fbaa18"/>
<circle cx="840.52" cy="776.43" r="3.63" fill="#fbaa18"/>
<circle cx="841.35" cy="769.92" r="3.00" fill="#fbaa18"/>
<circle cx="842.02" cy="764.61" r="2.48" fill="#fbaa18"/>
<circle cx="842.57" cy="760.27" r="2.06" fill="#fbaa18"/>
<circle cx="843.01" cy="756.73" r="1.72" fill="#fbaa18"/>
<circle cx="843.38" cy="753.84" r="1.44" fill="#fbaa18"/>
<circle cx="843.68" cy="751.48" r="1.21" fill="#fbaa18"/>
<circle cx="843.92" cy="749.56" r="1.03" fill="#fbaa18"/>
<circle cx="808.74" cy="832.58" r="9.66" fill="#fbaa18"/>
<circle cx="815.40" cy="815.76" r="7.92" fill="#fbaa18"/>
<circle cx="820.84" cy="802.03" r="6.50" fill="#fbaa18"/>
<circle cx="825.27" cy="790.82" r="5.34" fill="#fbaa18"/>
<circle cx="828.90" cy="781.67" r="4.40" fill="#fbaa18"/>
<circle cx="831.86" cy="774.20" r="3.63" fill="#fbaa18"/>
<circle cx="834.27" cy="768.10" r="3.00" fill="#fbaa18"/>
<circle cx="836.24" cy="763.12" r="2.48" fill="#fbaa18"/>
<circle cx="837.85" cy="759.06" r="2.06" fill="#fbaa18"/>
<circle cx="839.16" cy="755.74" r="1.72" fill="#fbaa18"/>
<circle cx="840.23" cy="753.04" r="1.44" fill="#fbaa18"/>
<circle cx="841.11" cy="750.82" r="1.21" fill="#fbaa18"/>
<circle cx="841.82" cy="749.02" r="1.03" fill="#fbaa18"/>
<circle cx="787.10" cy="820.69" r="9.66" fill="#fbaa18"/>
<circle cx="797.74" cy="806.05" r="7.92" fill="#fbaa18"/>
<circle cx="806.42" cy="794.10" r="6.50" fill="#fbaa18"/>
<circle cx="813.50" cy="784.35" r="5.34" fill="#fbaa18"/>
<circle cx="819.29" cy="776.39" r="4.40" fill="#fbaa18"/>
<circle cx="824.01" cy="769.89" r="3.63" fill="#fbaa18"/>
<circle cx="827.87" cy="764.58" r="3.00" fill="#fbaa18"/>
<circle cx="831.01" cy="760.25" r="2.48" fill="#fbaa18"/>
<circle cx="833.58" cy="756.71" r="2.06" fill="#fbaa18"/>
<circle cx="835.68" cy="753.83" r="1.72" fill="#fbaa18"/>
<circle cx="837.39" cy="751.47" r="1.44" fill="#fbaa18"/>
<circle cx="838.79" cy="749.55" r="1.21" fill="#fbaa18"/>
<circle cx="839.93" cy="747.98" r="1.03" fill="#fbaa18"/>
<circle cx="769.10" cy="803.79" r="9.66" fill="#fbaa18"/>
<circle cx="783.04" cy="792.25" r="7.92" fill="#fbaa18"/>
<circle cx="794.42" cy="782.84" r="6.50" fill="#fbaa18"/>
<circle cx="803.71" cy="775.16" r="5.34" fill="#fbaa18"/>
<circle cx="811.30" cy="768.88" r="4.40" fill="#fbaa18"/>
<circle cx="817.49" cy="763.76" r="3.63" fill="#fbaa18"/>
<circle cx="822.54" cy="759.58" r="3.00" fill="#fbaa18"/>
<circle cx="826.67" cy="756.17" r="2.48" fill="#fbaa18"/>
<circle cx="830.03" cy="753.38" r="2.06" fill="#fbaa18"/>
<circle cx="832.78" cy="751.11" r="1.72" fill="#fbaa18"/>
<circle cx="835.03" cy="749.25" r="1.44" fill="#fbaa18"/>
<circle cx="836.86" cy="747.74" r="1.21" fill="#fbaa18"/>
<circle cx="838.35" cy="746.50" r="1.03" fill="#fbaa18"/>
<circle cx="755.87" cy="782.94" r="9.66" fill="#fbaa18"/>
<circle cx="772.24" cy="775.24" r="7.92" fill="#fbaa18"/>
<circle cx="785.61" cy="768.95" r="6.50" fill="#fbaa18"/>
<circle cx="796.52" cy="763.81" r="5.34" fill="#fbaa18"/>
<circle cx="805.42" cy="759.62" r="4.40" fill="#fbaa18"/>
<circle cx="812.69" cy="756.20" r="3.63" fill="#fbaa18"/>
<circle cx="818.63" cy="753.41" r="3.00" fill="#fbaa18"/>
<circle cx="823.47" cy="751.13" r="2.48" fill="#fbaa18"/>
<circle cx="827.42" cy="749.27" r="2.06" fill="#fbaa18"/>
<circle cx="830.65" cy="747.75" r="1.72" fill="#fbaa18"/>
<circle cx="833.29" cy="746.51" r="1.44" fill="#fbaa18"/>
<circle cx="835.44" cy="745.50" r="1.21" fill="#fbaa18"/>
<circle cx="837.20" cy="744.67" r="1.03" fill="#fbaa18"/>
<circle cx="748.24" cy="759.46" r="9.66" fill="#fbaa18"/>
<circle cx="766.02" cy="756.07" r="7.92" fill="#fbaa18"/>
<circle cx="780.52" cy="753.30" r="6.50" fill="#fbaa18"/>
<circle cx="792.37" cy="751.04" r="5.34" fill="#fbaa18"/>
<circle cx="802.03" cy="749.20" r="4.40" fill="#fbaa18"/>
<circle cx="809.93" cy="747.69" r="3.63" fill="#fbaa18"/>
<circle cx="816.37" cy="746.46" r="3.00" fill="#fbaa18"/>
<circle cx="821.63" cy="745.46" r="2.48" fill="#fbaa18"/>
<circle cx="825.92" cy="744.64" r="2.06" fill="#fbaa18"/>
<circle cx="829.42" cy="743.97" r="1.72" fill="#fbaa18"/>
<circle cx="832.29" cy="743.43" r="1.44" fill="#fbaa18"/>
<circle cx="834.62" cy="742.98" r="1.21" fill="#fbaa18"/>
<circle cx="836.53" cy="742.62" r="1.03" fill="#fbaa18"/>
<circle cx="746.69" cy="734.82" r="9.66" fill="#fbaa18"/>
<circle cx="764.75" cy="735.95" r="7.92" fill="#fbaa18"/>
<circle cx="779.49" cy="736.88" r="6.50" fill="#fbaa18"/>
<circle cx="791.52" cy="737.64" r="5.34" fill="#fbaa18"/>
<circle cx="801.34" cy="738.25" r="4.40" fill="#fbaa18"/>
<circle cx="809.36" cy="738.76" r="3.63" fill="#fbaa18"/>
<circle cx="815.91" cy="739.17" r="3.00" fill="#fbaa18"/>
<circle cx="821.25" cy="739.51" r="2.48" fill="#fbaa18"/>
<circle cx="825.61" cy="739.78" r="2.06" fill="#fbaa18"/>
<circle cx="829.17" cy="740.00" r="1.72" fill="#fbaa18"/>
<circle cx="832.08" cy="740.19" r="1.44" fill="#fbaa18"/>
<circle cx="834.45" cy="740.34" r="1.21" fill="#fbaa18"/>
<circle cx="836.39" cy="740.46" r="1.03" fill="#fbaa18"/>
<circle cx="751.32" cy="710.56" r="9.66" fill="#fbaa18"/>
<circle cx="768.53" cy="716.15" r="7.92" fill="#fbaa18"/>
<circle cx="782.57" cy="720.72" r="6.50" fill="#fbaa18"/>
<circle cx="794.04" cy="724.44" r="5.34" fill="#fbaa18"/>
<circle cx="803.40" cy="727.48" r="4.40" fill="#fbaa18"/>
<circle cx="811.04" cy="729.97" r="3.63" fill="#fbaa18"/>
<circle cx="817.28" cy="731.99" r="3.00" fill="#fbaa18"/>
<circle cx="822.37" cy="733.65" r="2.48" fill="#fbaa18"/>
<circle cx="826.53" cy="735.00" r="2.06" fill="#fbaa18"/>
<circle cx="829.92" cy="736.10" r="1.72" fill="#fbaa18"/>
<circle cx="832.69" cy="737.00" r="1.44" fill="#fbaa18"/>
<circle cx="834.95" cy="737.73" r="1.21" fill="#fbaa18"/>
<circle cx="836.80" cy="738.33" r="1.03" fill="#fbaa18"/>
<circle cx="761.83" cy="688.22" r="9.66" fill="#fbaa18"/>
<circle cx="777.11" cy="697.92" r="7.92" fill="#fbaa18"/>
<circle cx="789.58" cy="705.83" r="6.50" fill="#fbaa18"/>
<circle cx="799.76" cy="712.29" r="5.34" fill="#fbaa18"/>
<circle cx="808.07" cy="717.56" r="4.40" fill="#fbaa18"/>
<circle cx="814.85" cy="721.87" r="3.63" fill="#fbaa18"/>
<circle cx="820.39" cy="725.38" r="3.00" fill="#fbaa18"/>
<circle cx="824.91" cy="728.25" r="2.48" fill="#fbaa18"/>
<circle cx="828.60" cy="730.59" r="2.06" fill="#fbaa18"/>
<circle cx="831.61" cy="732.50" r="1.72" fill="#fbaa18"/>
<circle cx="834.07" cy="734.06" r="1.44" fill="#fbaa18"/>
<circle cx="836.08" cy="735.34" r="1.21" fill="#fbaa18"/>
<circle cx="837.72" cy="736.38" r="1.03" fill="#fbaa18"/>
<circle cx="777.57" cy="669.20" r="9.66" fill="#fbaa18"/>
<circle cx="789.96" cy="682.38" r="7.92" fill="#fbaa18"/>
<circle cx="800.07" cy="693.15" r="6.50" fill="#fbaa18"/>
<circle cx="808.32" cy="701.94" r="5.34" fill="#fbaa18"/>
<circle cx="815.06" cy="709.11" r="4.40" fill="#fbaa18"/>
<circle cx="820.56" cy="714.97" r="3.63" fill="#fbaa18"/>
<circle cx="825.05" cy="719.75" r="3.00" fill="#fbaa18"/>
<circle cx="828.71" cy="723.65" r="2.48" fill="#fbaa18"/>
<circle cx="831.70" cy="726.84" r="2.06" fill="#fbaa18"/>
<circle cx="834.15" cy="729.44" r="1.72" fill="#fbaa18"/>
<circle cx="836.14" cy="731.56" r="1.44" fill="#fbaa18"/>
<circle cx="837.77" cy="733.30" r="1.21" fill="#fbaa18"/>
<circle cx="839.10" cy="734.71" r="1.03" fill="#fbaa18"/>
<circle cx="797.55" cy="654.68" r="9.66" fill="#fbaa18"/>
<circle cx="806.26" cy="670.54" r="7.92" fill="#fbaa18"/>
<circle cx="813.38" cy="683.48" r="6.50" fill="#fbaa18"/>
<circle cx="819.19" cy="694.04" r="5.34" fill="#fbaa18"/>
<circle cx="823.93" cy="702.67" r="4.40" fill="#fbaa18"/>
<circle cx="827.80" cy="709.71" r="3.63" fill="#fbaa18"/>
<circle cx="830.96" cy="715.46" r="3.00" fill="#fbaa18"/>
<circle cx="833.54" cy="720.15" r="2.48" fill="#fbaa18"/>
<circle cx="835.64" cy="723.98" r="2.06" fill="#fbaa18"/>
<circle cx="837.36" cy="727.10" r="1.72" fill="#fbaa18"/>
<circle cx="838.76" cy="729.66" r="1.44" fill="#fbaa18"/>
<circle cx="839.91" cy="731.74" r="1.21" fill="#fbaa18"/>
<circle cx="840.84" cy="733.44" r="1.03" fill="#fbaa18"/>
<circle cx="820.50" cy="645.59" r="9.66" fill="#fbaa18"/>
<circle cx="825.00" cy="663.12" r="7.92" fill="#fbaa18"/>
<circle cx="828.68" cy="677.42" r="6.50" fill="#fbaa18"/>
<circle cx="831.67" cy="689.10" r="5.34" fill="#fbaa18"/>
<circle cx="834.12" cy="698.63" r="4.40" fill="#fbaa18"/>
<circle cx="836.12" cy="706.41" r="3.63" fill="#fbaa18"/>
<circle cx="837.75" cy="712.77" r="3.00" fill="#fbaa18"/>
<circle cx="839.08" cy="717.95" r="2.48" fill="#fbaa18"/>
<circle cx="840.17" cy="722.19" r="2.06" fill="#fbaa18"/>
<circle cx="841.06" cy="725.64" r="1.72" fill="#fbaa18"/>
<circle cx="841.78" cy="728.46" r="1.44" fill="#fbaa18"/>
<circle cx="842.37" cy="730.77" r="1.21" fill="#fbaa18"/>
<circle cx="842.85" cy="732.65" r="1.03" fill="#fbaa18"/>
<circle cx="1120.00" cy="642.50" r="9.66" fill="#8cd21a"/>
<circle cx="1120.00" cy="660.59" r="7.92" fill="#8cd21a"/>
<circle cx="1120.00" cy="675.36" r="6.50" fill="#8cd21a"/>
<circle cx="1120.00" cy="687.42" r="5.34" fill="#8cd21a"/>
<circle cx="1120.00" cy="697.26" r="4.40" fill="#8cd21a"/>
<circle cx="1120.00" cy="705.29" r="3.63" fill="#8cd21a"/>
<circle cx="1120.00" cy="711.85" r="3.00" fill="#8cd21a"/>
<circle cx="1120.00" cy="717.21" r="2.48" fill="#8cd21a"/>
<circle cx="1120.00" cy="721.58" r="2.06" fill="#8cd21a"/>
<circle cx="1120.00" cy="725.14" r="1.72" fill="#8cd21a"/>
<circle cx="1120.00" cy="728.06" r="1.44" fill="#8cd21a"/>
<circle cx="1120.00" cy="730.43" r="1.21" fill="#8cd21a"/>
<circle cx="1120.00" cy="732.37" r="1.03" fill="#8cd21a"/>
<circle cx="1144.50" cy="645.59" r="9.66" fill="#8cd21a"/>
<circle cx="1140.00" cy="663.12" r="7.92" fill="#8cd21a"/>
<circle cx="1136.32" cy="677.42" r="6.50" fill="#8cd21a"/>
<circle cx="1133.33" cy="689.10" r="5.34" fill="#8cd21a"/>
<circle cx="1130.88" cy="698.63" r="4.40" fill="#8cd21a"/>
<circle cx="1128.88" cy="706.41" r="3.63" fill="#8cd21a"/>
<circle cx="1127.25" cy="712.77" r="3.00" fill="#8cd21a"/>
<circle cx="1125.92" cy="717.95" r="2.48" fill="#8cd21a"/>
<circle cx="1124.83" cy="722.19" r="2.06" fill="#8cd21a"/>
<circle cx="1123.94" cy="725.64" r="1.72" fill="#8cd21a"/>
<circle cx="1123.22" cy="728.46" r="1.44" fill="#8cd21a"/>
<circle cx="1122.63" cy="730.77" r="1.21" fill="#8cd21a"/>
<circle cx="1122.15" cy="732.65" r="1.03" fill="#8cd21a"/>
<circle cx="1167.45" cy="654.68" r="9.66" fill="#8cd21a"/>
<circle cx="1158.74" cy="670.54" r="7.92" fill="#8cd21a"/>
<circle cx="1151.62" cy="683.48" r="6.50" fill="#8cd21a"/>
<circle cx="1145.81" cy="694.04" r="5.34" fill="#8cd21a"/>
<circle cx="1141.07" cy="702.67" r="4.40" fill="#8cd21a"/>
<circle cx="1137.20" cy="709.71" r="3.63" fill="#8cd21a"/>
<circle cx="1134.04" cy="715.46" r="3.00" fill="#8cd21a"/>
<circle cx="1131.46" cy="720.15" r="2.48" fill="#8cd21a"/>
<circle cx="1129.36" cy="723.98" r="2.06" fill="#8cd21a"/>
<circle cx="1127.64" cy="727.10" r="1.72" fill="#8cd21a"/>
<circle cx="1126.24" cy="729.66" r="1.44" fill="#8cd21a"/>
<circle cx="1125.09" cy="731.74" r="1.21" fill="#8cd21a"/>
<circle cx="1124.16" cy="733.44" r="1.03" fill="#8cd21a"/>
<circle cx="1187.43" cy="669.20" r="9.66" fill="#8cd21a"/>
<circle cx="1175.04" cy="682.38" r="7.92" fill="#8cd21a"/>
<circle cx="1164.93" cy="693.15" r="6.50" fill="#8cd21a"/>
<circle cx="1156.68" cy="701.94" r="5.34" fill="#8cd21a"/>
<circle cx="1149.94" cy="709.11" r="4.40" fill="#8cd21a"/>
<circle cx="1144.44" cy="714.97" r="3.63" fill="#8cd21a"/>
<circle cx="1139.95" cy="719.75" r="3.00" fill="#8cd21a"/>
<circle cx="1136.29" cy="723.65" r="2.48" fill="#8cd21a"/>
<circle cx="1133.30" cy="726.84" r="2.06" fill="#8cd21a"/>
<circle cx="1130.85" cy="729.44" r="1.72" fill="#8cd21a"/>
<circle cx="1128.86" cy="731.56" r="1.44" fill="#8cd21a"/>
<circle cx="1127.23" cy="733.30" r="1.21" fill="#8cd21a"/>
<circle cx="1125.90" cy="734.71" r="1.03" fill="#8cd21a"/>
<circle cx="1203.17" cy="688.22" r="9.66" fill="#8cd21a"/>
<circle cx="1187.89" cy="697.92" r="7.92" fill="#8cd21a"/>
<circle cx="1175.42" cy="705.83" r="6.50" fill="#8cd21a"/>
<circle cx="1165.24" cy="712.29" r="5.34" fill="#8cd21a"/>
<circle cx="1156.93" cy="717.56" r="4.40" fill="#8cd21a"/>
<circle cx="1150.15" cy="721.87" r="3.63" fill="#8cd21a"/>
<circle cx="1144.61" cy="725.38" r="3.00" fill="#8cd21a"/>
<circle cx="1140.09" cy="728.25" r="2.48" fill="#8cd21a"/>
<circle cx="1136.40" cy="730.59" r="2.06" fill="#8cd21a"/>
<circle cx="1133.39" cy="732.50" r="1.72" fill="#8cd21a"/>
<circle cx="1130.93" cy="734.06" r="1.44" fill="#8cd21a"/>
<circle cx="1128.92" cy="735.34" r="1.21" fill="#8cd21a"/>
<circle cx="1127.28" cy="736.38" r="1.03" fill="#8cd21a"/>
<circle cx="1213.68" cy="710.56" r="9.66" fill="#8cd21a"/>
<circle cx="1196.47" cy="716.15" r="7.92" fill="#8cd21a"/>
<circle cx="1182.43" cy="720.72" r="6.50" fill="#8cd21a"/>
<circle cx="1170.96" cy="724.44" r="5.34" fill="#8cd21a"/>
<circle cx="1161.60" cy="727.48" r="4.40" fill="#8cd21a"/>
<circle cx="1153.96" cy="729.97" r="3.63" fill="#8cd21a"/>
<circle cx="1147.72" cy="731.99" r="3.00" fill="#8cd21a"/>
<circle cx="1142.63" cy="733.65" r="2.48" fill="#8cd21a"/>
<circle cx="1138.47" cy="735.00" r="2.06" fill="#8cd21a"/>
<circle cx="1135.08" cy="736.10" r="1.72" fill="#8cd21a"/>
<circle cx="1132.31" cy="737.00" r="1.44" fill="#8cd21a"/>
<circle cx="1130.05" cy="737.73" r="1.21" fill="#8cd21a"/>
<circle cx="1128.20" cy="738.33" r="1.03" fill="#8cd21a"/>
<circle cx="1218.31" cy="734.82" r="9.66" fill="#8cd21a"/>
<circle cx="1200.25" cy="735.95" r="7.92" fill="#8cd21a"/>
<circle cx="1185.51" cy="736.88" r="6.50" fill="#8cd21a"/>
<circle cx="1173.48" cy="737.64" r="5.34" fill="#8cd21a"/>
<circle cx="1163.66" cy="738.25" r="4.40" fill="#8cd21a"/>
<circle cx="1155.64" cy="738.76" r="3.63" fill="#8cd21a"/>
<circle cx="1149.09" cy="739.17" r="3.00" fill="#8cd21a"/>
<circle cx="1143.75" cy="739.51" r="2.48" fill="#8cd21a"/>
<circle cx="1139.39" cy="739.78" r="2.06" fill="#8cd21a"/>
<circle cx="1135.83" cy="740.00" r="1.72" fill="#8cd21a"/>
<circle cx="1132.92" cy="740.19" r="1.44" fill="#8cd21a"/>
<circle cx="1130.55" cy="740.34" r="1.21" fill="#8cd21a"/>
<circle cx="1128.61" cy="740.46" r="1.03" fill="#8cd21a"/>
<circle cx="1216.76" cy="759.46" r="9.66" fill="#8cd21a"/>
<circle cx="1198.98" cy="756.07" r="7.92" fill="#8cd21a"/>
<circle cx="1184.48" cy="753.30" r="6.50" fill="#8cd21a"/>
<circle cx="1172.63" cy="751.04" r="5.34" fill="#8cd21a"/>
<circle cx="1162.97" cy="749.20" r="4.40" fill="#8cd21a"/>
<circle cx="1155.07" cy="747.69" r="3.63" fill="#8cd21a"/>
<circle cx="1148.63" cy="746.46" r="3.00" fill="#8cd21a"/>
<circle cx="1143.37" cy="745.46" r="2.48" fill="#8cd21a"/>
<circle cx="1139.08" cy="744.64" r="2.06" fill="#8cd21a"/>
<circle cx="1135.58" cy="743.97" r="1.72" fill="#8cd21a"/>
<circle cx="1132.71" cy="743.43" r="1.44" fill="#8cd21a"/>
<circle cx="1130.38" cy="742.98" r="1.21" fill="#8cd21a"/>
<circle cx="1128.47" cy="742.62" r="1.03" fill="#8cd21a"/>
<circle cx="1209.13" cy="782.94" r="9.66" fill="#8cd21a"/>
<circle cx="1192.76" cy="775.24" r="7.92" fill="#8cd21a"/>
<circle cx="1179.39" cy="768.95" r="6.50" fill="#8cd21a"/>
<circle cx="1168.48" cy="763.81" r="5.34" fill="#8cd21a"/>
<circle cx="1159.58" cy="759.62" r="4.40" fill="#8cd21a"/>
<circle cx="1152.31" cy="756.20" r="3.63" fill="#8cd21a"/>
<circle cx="1146.37" cy="753.41" r="3.00" fill="#8cd21a"/>
<circle cx="1141.53" cy="751.13" r="2.48" fill="#8cd21a"/>
<circle cx="1137.58" cy="749.27" r="2.06" fill="#8cd21a"/>
<circle cx="1134.35" cy="747.75" r="1.72" fill="#8cd21a"/>
<circle cx="1131.71" cy="746.51" r="1.44" fill="#8cd21a"/>
<circle cx="1129.56" cy="745.50" r="1.21" fill="#8cd21a"/>
<circle cx="1127.80" cy="744.67" r="1.03" fill="#8cd21a"/>
<circle cx="1195.90" cy="803.79" r="9.66" fill="#16bdf2"/>
<circle cx="1181.96" cy="792.25" r="7.92" fill="#16bdf2"/>
<circle cx="1170.58" cy="782.84" r="6.50" fill="#16bdf2"/>
<circle cx="1161.29" cy="775.16" r="5.34" fill="#16bdf2"/>
<circle cx="1153.70" cy="768.88" r="4.40" fill="#16bdf2"/>
<circle cx="1147.51" cy="763.76" r="3.63" fill="#16bdf2"/>
<circle cx="1142.46" cy="759.58" r="3.00" fill="#16bdf2"/>
<circle cx="1138.33" cy="756.17" r="2.48" fill="#16bdf2"/>
<circle cx="1134.97" cy="753.38" r="2.06" fill="#16bdf2"/>
<circle cx="1132.22" cy="751.11" r="1.72" fill="#16bdf2"/>
<circle cx="1129.97" cy="749.25" r="1.44" fill="#16bdf2"/>
<circle cx="1128.14" cy="747.74" r="1.21" fill="#16bdf2"/>
<circle cx="1126.65" cy="746.50" r="1.03" fill="#16bdf2"/>
<circle cx="1177.90" cy="820.69" r="9.66" fill="#16bdf2"/>
<circle cx="1167.26" cy="806.05" r="7.92" fill="#16bdf2"/>
<circle cx="1158.58" cy="794.10" r="6.50" fill="#16bdf2"/>
<circle cx="1151.50" cy="784.35" r="5.34" fill="#16bdf2"/>
<circle cx="1145.71" cy="776.39" r="4.40" fill="#16bdf2"/>
<circle cx="1140.99" cy="769.89" r="3.63" fill="#16bdf2"/>
<circle cx="1137.13" cy="764.58" r="3.00" fill="#16bdf2"/>
<circle cx="1133.99" cy="760.25" r="2.48" fill="#16bdf2"/>
<circle cx="1131.42" cy="756.71" r="2.06" fill="#16bdf2"/>
<circle cx="1129.32" cy="753.83" r="1.72" fill="#16bdf2"/>
<circle cx="1127.61" cy="751.47" r="1.44" fill="#16bdf2"/>
<circle cx="1126.21" cy="749.55" r="1.21" fill="#16bdf2"/>
<circle cx="1125.07" cy="747.98" r="1.03" fill="#16bdf2"/>
<circle cx="1156.26" cy="832.58" r="9.66" fill="#16bdf2"/>
<circle cx="1149.60" cy="815.76" r="7.92" fill="#16bdf2"/>
<circle cx="1144.16" cy="802.03" r="6.50" fill="#16bdf2"/>
<circle cx="1139.73" cy="790.82" r="5.34" fill="#16bdf2"/>
<circle cx="1136.10" cy="781.67" r="4.40" fill="#16bdf2"/>
<circle cx="1133.14" cy="774.20" r="3.63" fill="#16bdf2"/>
<circle cx="1130.73" cy="768.10" r="3.00" fill="#16bdf2"/>
<circle cx="1128.76" cy="763.12" r="2.48" fill="#16bdf2"/>
<circle cx="1127.15" cy="759.06" r="2.06" fill="#16bdf2"/>
<circle cx="1125.84" cy="755.74" r="1.72" fill="#16bdf2"/>
<circle cx="1124.77" cy="753.04" r="1.44" fill="#16bdf2"/>
<circle cx="1123.89" cy="750.82" r="1.21" fill="#16bdf2"/>
<circle cx="1123.18" cy="749.02" r="1.03" fill="#16bdf2"/>
<circle cx="1132.35" cy="838.72" r="9.66" fill="#16bdf2"/>
<circle cx="1130.08" cy="820.77" r="7.92" fill="#16bdf2"/>
<circle cx="1128.23" cy="806.12" r="6.50" fill="#16bdf2"/>
<circle cx="1126.72" cy="794.16" r="5.34" fill="#16bdf2"/>
<circle cx="1125.48" cy="784.40" r="4.40" fill="#16bdf2"/>
<circle cx="1124.48" cy="776.43" r="3.63" fill="#16bdf2"/>
<circle cx="1123.65" cy="769.92" r="3.00" fill="#16bdf2"/>
<circle cx="1122.98" cy="764.61" r="2.48" fill="#16bdf2"/>
<circle cx="1122.43" cy="760.27" r="2.06" fill="#16bdf2"/>
<circle cx="1121.99" cy="756.73" r="1.72" fill="#16bdf2"/>
<circle cx="1121.62" cy="753.84" r="1.44" fill="#16bdf2"/>
<circle cx="1121.32" cy="751.48" r="1.21" fill="#16bdf2"/>
<circle cx="1121.08" cy="749.56" r="1.03" fill="#16bdf2"/>
<circle cx="1107.65" cy="838.72" r="9.66" fill="#16bdf2"/>
<circle cx="1109.92" cy="820.77" r="7.92" fill="#16bdf2"/>
<circle cx="1111.77" cy="806.12" r="6.50" fill="#16bdf2"/>
<circle cx="1113.28" cy="794.16" r="5.34" fill="#16bdf2"/>
<circle cx="1114.52" cy="784.40" r="4.40" fill="#16bdf2"/>
<circle cx="1115.52" cy="776.43" r="3.63" fill="#16bdf2"/>
<circle cx="1116.35" cy="769.92" r="3.00" fill="#16bdf2"/>
<circle cx="1117.02" cy="764.61" r="2.48" fill="#16bdf2"/>
<circle cx="1117.57" cy="760.27" r="2.06" fill="#16bdf2"/>
<circle cx="1118.01" cy="756.73" r="1.72" fill="#16bdf2"/>
<circle cx="1118.38" cy="753.84" r="1.44" fill="#16bdf2"/>
<circle cx="1118.68" cy="751.48" r="1.21" fill="#16bdf2"/>
<circle cx="1118.92" cy="749.56" r="1.03" fill="#16bdf2"/>
<circle cx="1083.74" cy="832.58" r="9.66" fill="#fbaa18"/>
<circle cx="1090.40" cy="815.76" r="7.92" fill="#fbaa18"/>
<circle cx="1095.84" cy="802.03" r="6.50" fill="#fbaa18"/>
<circle cx="1100.27" cy="790.82" r="5.34" fill="#fbaa18"/>
<circle cx="1103.90" cy="781.67" r="4.40" fill="#fbaa18"/>
<circle cx="1106.86" cy="774.20" r="3.63" fill="#fbaa18"/>
<circle cx="1109.27" cy="768.10" r="3.00" fill="#fbaa18"/>
<circle cx="1111.24" cy="763.12" r="2.48" fill="#fbaa18"/>
<circle cx="1112.85" cy="759.06" r="2.06" fill="#fbaa18"/>
<circle cx="1114.16" cy="755.74" r="1.72" fill="#fbaa18"/>
<circle cx="1115.23" cy="753.04" r="1.44" fill="#fbaa18"/>
<circle cx="1116.11" cy="750.82" r="1.21" fill="#fbaa18"/>
<circle cx="1116.82" cy="749.02" r="1.03" fill="#fbaa18"/>
<circle cx="1062.10" cy="820.69" r="9.66" fill="#fbaa18"/>
<circle cx="1072.74" cy="806.05" r="7.92" fill="#fbaa18"/>
<circle cx="1081.42" cy="794.10" r="6.50" fill="#fbaa18"/>
<circle cx="1088.50" cy="784.35" r="5.34" fill="#fbaa18"/>
<circle cx="1094.29" cy="776.39" r="4.40" fill="#fbaa18"/>
<circle cx="1099.01" cy="769.89" r="3.63" fill="#fbaa18"/>
<circle cx="1102.87" cy="764.58" r="3.00" fill="#fbaa18"/>
<circle cx="1106.01" cy="760.25" r="2.48" fill="#fbaa18"/>
<circle cx="1108.58" cy="756.71" r="2.06" fill="#fbaa18"/>
<circle cx="1110.68" cy="753.83" r="1.72" fill="#fbaa18"/>
<circle cx="1112.39" cy="751.47" r="1.44" fill="#fbaa18"/>
<circle cx="1113.79" cy="749.55" r="1.21" fill="#fbaa18"/>
<circle cx="1114.93" cy="747.98" r="1.03" fill="#fbaa18"/>
<circle cx="1044.10" cy="803.79" r="9.66" fill="#fbaa18"/>
<circle cx="1058.04" cy="792.25" r="7.92" fill="#fbaa18"/>
<circle cx="1069.42" cy="782.84" r="6.50" fill="#fbaa18"/>
<circle cx="1078.71" cy="775.16" r="5.34" fill="#fbaa18"/>
<circle cx="1086.30" cy="768.88" r="4.40" fill="#fbaa18"/>
<circle cx="1092.49" cy="763.76" r="3.63" fill="#fbaa18"/>
<circle cx="1097.54" cy="759.58" r="3.00" fill="#fbaa18"/>
<circle cx="1101.67" cy="756.17" r="2.48" fill="#fbaa18"/>
<circle cx="1105.03" cy="753.38" r="2.06" fill="#fbaa18"/>
<circle cx="1107.78" cy="751.11" r="1.72" fill="#fbaa18"/>
<circle cx="1110.03" cy="749.25" r="1.44" fill="#fbaa18"/>
<circle cx="1111.86" cy="747.74" r="1.21" fill="#fbaa18"/>
<circle cx="1113.35" cy="746.50" r="1.03" fill="#fbaa18"/>
<circle cx="1030.87" cy="782.94" r="9.66" fill="#fbaa18"/>
<circle cx="1047.24" cy="775.24" r="7.92" fill="#fbaa18"/>
<circle cx="1060.61" cy="768.95" r="6.50" fill="#fbaa18"/>
<circle cx="1071.52" cy="763.81" r="5.34" fill="#fbaa18"/>
<circle cx="1080.42" cy="759.62" r="4.40" fill="#fbaa18"/>
<circle cx="1087.69" cy="756.20" r="3.63" fill="#fbaa18"/>
<circle cx="1093.63" cy="753.41" r="3.00" fill="#fbaa18"/>
<circle cx="1098.47" cy="751.13" r="2.48" fill="#fbaa18"/>
<circle cx="1102.42" cy="749.27" r="2.06" fill="#fbaa18"/>
<circle cx="1105.65" cy="747.75" r="1.72" fill="#fbaa18"/>
<circle cx="1108.29" cy="746.51" r="1.44" fill="#fbaa18"/>
<circle cx="1110.44" cy="745.50" r="1.21" fill="#fbaa18"/>
<circle cx="1112.20" cy="744.67" r="1.03" fill="#fbaa18"/>
<circle cx="1023.24" cy="759.46" r="9.66" fill="#fbaa18"/>
<circle cx="1041.02" cy="756.07" r="7.92" fill="#fbaa18"/>
<circle cx="1055.52" cy="753.30" r="6.50" fill="#fbaa18"/>
<circle cx="1067.37" cy="751.04" r="5.34" fill="#fbaa18"/>
<circle cx="1077.03" cy="749.20" r="4.40" fill="#fbaa18"/>
<circle cx="1084.93" cy="747.69" r="3.63" fill="#fbaa18"/>
<circle cx="1091.37" cy="746.46" r="3.00" fill="#fbaa18"/>
<circle cx="1096.63" cy="745.46" r="2.48" fill="#fbaa18"/>
<circle cx="1100.92" cy="744.64" r="2.06" fill="#fbaa18"/>
<circle cx="1104.42" cy="743.97" r="1.72" fill="#fbaa18"/>
<circle cx="1107.29" cy="743.43" r="1.44" fill="#fbaa18"/>
<circle cx="1109.62" cy="742.98" r="1.21" fill="#fbaa18"/>
<circle cx="1111.53" cy="742.62" r="1.03" fill="#fbaa18"/>
<circle cx="1021.69" cy="734.82" r="9.66" fill="#fbaa18"/>
<circle cx="1039.75" cy="735.95" r="7.92" fill="#fbaa18"/>
<circle cx="1054.49" cy="736.88" r="6.50" fill="#fbaa18"/>
<circle cx="1066.52" cy="737.64" r="5.34" fill="#fbaa18"/>
<circle cx="1076.34" cy="738.25" r="4.40" fill="#fbaa18"/>
<circle cx="1084.36" cy="738.76" r="3.63" fill="#fbaa18"/>
<circle cx="1090.91" cy="739.17" r="3.00" fill="#fbaa18"/>
<circle cx="1096.25" cy="739.51" r="2.48" fill="#fbaa18"/>
<circle cx="1100.61" cy="739.78" r="2.06" fill="#fbaa18"/>
<circle cx="1104.17" cy="740.00" r="1.72" fill="#fbaa18"/>
<circle cx="1107.08" cy="740.19" r="1.44" fill="#fbaa18"/>
<circle cx="1109.45" cy="740.34" r="1.21" fill="#fbaa18"/>
<circle cx="1111.39" cy="740.46" r="1.03" fill="#fbaa18"/>
<circle cx="1026.32" cy="710.56" r="9.66" fill="#fbaa18"/>
<circle cx="1043.53" cy="716.15" r="7.92" fill="#fbaa18"/>
<circle cx="1057.57" cy="720.72" r="6.50" fill="#fbaa18"/>
<circle cx="1069.04" cy="724.44" r="5.34" fill="#fbaa18"/>
<circle cx="1078.40" cy="727.48" r="4.40" fill="#fbaa18"/>
<circle cx="1086.04" cy="729.97" r="3.63" fill="#fbaa18"/>
<circle cx="1092.28" cy="731.99" r="3.00" fill="#fbaa18"/>
<circle cx="1097.37" cy="733.65" r="2.48" fill="#fbaa18"/>
<circle cx="1101.53" cy="735.00" r="2.06" fill="#fbaa18"/>
<circle cx="1104.92" cy="736.10" r="1.72" fill="#fbaa18"/>
<circle cx="1107.69" cy="737.00" r="1.44" fill="#fbaa18"/>
<circle cx="1109.95" cy="737.73" r="1.21" fill="#fbaa18"/>
<circle cx="1111.80" cy="738.33" r="1.03" fill="#fbaa18"/>
<circle cx="1036.83" cy="688.22" r="9.66" fill="#fbaa18"/>
<circle cx="1052.11" cy="697.92" r="7.92" fill="#fbaa18"/>
<circle cx="1064.58" cy="705.83" r="6.50" fill="#fbaa18"/>
<circle cx="1074.76" cy="712.29" r="5.34" fill="#fbaa18"/>
<circle cx="1083.07" cy="717.56" r="4.40" fill="#fbaa18"/>
<circle cx="1089.85" cy="721.87" r="3.63" fill="#fbaa18"/>
<circle cx="1095.39" cy="725.38" r="3.00" fill="#fbaa18"/>
<circle cx="1099.91" cy="728.25" r="2.48" fill="#fbaa18"/>
<circle cx="1103.60" cy="730.59" r="2.06" fill="#fbaa18"/>
<circle cx="1106.61" cy="732.50" r="1.72" fill="#fbaa18"/>
<circle cx="1109.07" cy="734.06" r="1.44" fill="#fbaa18"/>
<circle cx="1111.08" cy="735.34" r="1.21" fill="#fbaa18"/>
<circle cx="1112.72" cy="736.38" r="1.03" fill="#fbaa18"/>
<circle cx="1052.57" cy="669.20" r="9.66" fill="#fbaa18"/>
<circle cx="1064.96" cy="682.38" r="7.92" fill="#fbaa18"/>
<circle cx="1075.07" cy="693.15" r="6.50" fill="#fbaa18"/>
<circle cx="1083.32" cy="701.94" r="5.34" fill="#fbaa18"/>
<circle cx="1090.06" cy="709.11" r="4.40" fill="#fbaa18"/>
<circle cx="1095.56" cy="714.97" r="3.63" fill="#fbaa18"/>
<circle cx="1100.05" cy="719.75" r="3.00" fill="#fbaa18"/>
<circle cx="1103.71" cy="723.65" r="2.48" fill="#fbaa18"/>
<circle cx="1106.70" cy="726.84" r="2.06" fill="#fbaa18"/>
<circle cx="1109.15" cy="729.44" r="1.72" fill="#fbaa18"/>
<circle cx="1111.14" cy="731.56" r="1.44" fill="#fbaa18"/>
<circle cx="1112.77" cy="733.30" r="1.21" fill="#fbaa18"/>
<circle cx="1114.10" cy="734.71" r="1.03" fill="#fbaa18"/>
<circle cx="1072.55" cy="654.68" r="9.66" fill="#fbaa18"/>
<circle cx="1081.26" cy="670.54" r="7.92" fill="#fbaa18"/>
<circle cx="1088.38" cy="683.48" r="6.50" fill="#fbaa18"/>
<circle cx="1094.19" cy="694.04" r="5.34" fill="#fbaa18"/>
<circle cx="1098.93" cy="702.67" r="4.40" fill="#fbaa18"/>
<circle cx="1102.80" cy="709.71" r="3.63" fill="#fbaa18"/>
<circle cx="1105.96" cy="715.46" r="3.00" fill="#fbaa18"/>
<circle cx="1108.54" cy="720.15" r="2.48" fill="#fbaa18"/>
<circle cx="1110.64" cy="723.98" r="2.06" fill="#fbaa18"/>
<circle cx="1112.36" cy="727.10" r="1.72" fill="#fbaa18"/>
<circle cx="1113.76" cy="729.66" r="1.44" fill="#fbaa18"/>
<circle cx="1114.91" cy="731.74" r="1.21" fill="#fbaa18"/>
<circle cx="1115.84" cy="733.44" r="1.03" fill="#fbaa18"/>
<circle cx="1095.50" cy="645.59" r="9.66" fill="#fbaa18"/>
<circle cx="1100.00" cy="663.12" r="7.92" fill="#fbaa18"/>
<circle cx="1103.68" cy="677.42" r="6.50" fill="#fbaa18"/>
<circle cx="1106.67" cy="689.10" r="5.34" fill="#fbaa18"/>
<circle cx="1109.12" cy="698.63" r="4.40" fill="#fbaa18"/>
<circle cx="1111.12" cy="706.41" r="3.63" fill="#fbaa18"/>
<circle cx="1112.75" cy="712.77" r="3.00" fill="#fbaa18"/>
<circle cx="1114.08" cy="717.95" r="2.48" fill="#fbaa18"/>
<circle cx="1115.17" cy="722.19" r="2.06" fill="#fbaa18"/>
<circle cx="1116.06" cy="725.64" r="1.72" fill="#fbaa18"/>
<circle cx="1116.78" cy="728.46" r="1.44" fill="#fbaa18"/>
<circle cx="1117.37" cy="730.77" r="1.21" fill="#fbaa18"/>
<circle cx="1117.85" cy="732.65" r="1.03" fill="#fbaa18"/>
<rect x="198.70" y="636.90" width="29" height="28.7" rx="4" fill="#86d600"/>
<rect x="231.97" y="636.90" width="29" height="28.7" rx="4" fill="#86d600"/>
<rect x="265.24" y="636.90" width="29" height="28.7" rx="4" fill="#86d600"/>
<rect x="298.51" y="636.90" width="29" height="28.7" rx="4" fill="#86d600"/>
<rect x="331.78" y="636.90" width="29" height="28.7" rx="4" fill="#c0f744"/>
<rect x="365.05" y="636.90" width="29" height="28.7" rx="4" fill="#c0f744"/>
<rect x="398.32" y="636.90" width="29" height="28.7" rx="4" fill="#c0f744"/>
<rect x="431.59" y="636.90" width="29" height="28.7" rx="4" fill="#c0f744"/>
<rect x="464.86" y="636.90" width="29" height="28.7" rx="4" fill="#c0f744"/>
<rect x="498.13" y="636.90" width="29" height="28.7" rx="4" fill="#c0f744"/>
<rect x="531.40" y="636.90" width="29" height="28.7" rx="4" fill="#c0f744"/>
<rect x="564.67" y="636.90" width="29" height="28.7" rx="4" fill="#c0f744"/>
<rect x="198.70" y="669.95" width="29" height="28.7" rx="4" fill="#86d600"/>
<rect x="231.97" y="669.95" width="29" height="28.7" rx="4" fill="#86d600"/>
<rect x="265.24" y="669.95" width="29" height="28.7" rx="4" fill="#86d600"/>
<rect x="298.51" y="669.95" width="29" height="28.7" rx="4" fill="#86d600"/>
<rect x="331.78" y="669.95" width="29" height="28.7" rx="4" fill="#86d600"/>
<rect x="365.05" y="669.95" width="29" height="28.7" rx="4" fill="#86d600"/>
<rect x="398.32" y="669.95" width="29" height="28.7" rx="4" fill="#86d600"/>
<rect x="431.59" y="669.95" width="29" height="28.7" rx="4" fill="#86d600"/>
<rect x="464.86" y="669.95" width="29" height="28.7" rx="4" fill="#c0f744"/>
<rect x="498.13" y="669.95" width="29" height="28.7" rx="4" fill="#c0f744"/>
<rect x="531.40" y="669.95" width="29" height="28.7" rx="4" fill="#c0f744"/>
<rect x="564.67" y="669.95" width="29" height="28.7" rx="4" fill="#c0f744"/>
<rect x="198.70" y="703.00" width="29" height="28.7" rx="4" fill="#86d600"/>
<rect x="231.97" y="703.00" width="29" height="28.7" rx="4" fill="#86d600"/>
<rect x="265.24" y="703.00" width="29" height="28.7" rx="4" fill="#86d600"/>
<rect x="298.51" y="703.00" width="29" height="28.7" rx="4" fill="#86d600"/>
<rect x="331.78" y="703.00" width="29" height="28.7" rx="4" fill="#86d600"/>
<rect x="365.05" y="703.00" width="29" height="28.7" rx="4" fill="#86d600"/>
<rect x="398.32" y="703.00" width="29" height="28.7" rx="4" fill="#86d600"/>
<rect x="431.59" y="703.00" width="29" height="28.7" rx="4" fill="#86d600"/>
<rect x="464.86" y="703.00" width="29" height="28.7" rx="4" fill="#86d600"/>
<rect x="498.13" y="703.00" width="29" height="28.7" rx="4" fill="#86d600"/>
<rect x="531.40" y="703.00" width="29" height="28.7" rx="4" fill="#c0f744"/>
<rect x="564.67" y="703.00" width="29" height="28.7" rx="4" fill="#c0f744"/>
<rect x="198.70" y="736.05" width="29" height="28.7" rx="4" fill="#86d600"/>
<rect x="231.97" y="736.05" width="29" height="28.7" rx="4" fill="#86d600"/>
<rect x="265.24" y="736.05" width="29" height="28.7" rx="4" fill="#86d600"/>
<rect x="298.51" y="736.05" width="29" height="28.7" rx="4" fill="#86d600"/>
<rect x="331.78" y="736.05" width="29" height="28.7" rx="4" fill="#86d600"/>
<rect x="365.05" y="736.05" width="29" height="28.7" rx="4" fill="#86d600"/>
<rect x="398.32" y="736.05" width="29" height="28.7" rx="4" fill="#86d600"/>
<rect x="431.59" y="736.05" width="29" height="28.7" rx="4" fill="#86d600"/>
<rect x="464.86" y="736.05" width="29" height="28.7" rx="4" fill="#86d600"/>
<rect x="498.13" y="736.05" width="29" height="28.7" rx="4" fill="#c0f744"/>
<rect x="531.40" y="736.05" width="29" height="28.7" rx="4" fill="#c0f744"/>
<rect x="564.67" y="736.05" width="29" height="28.7" rx="4" fill="#c0f744"/>
<rect x="198.70" y="769.10" width="29" height="28.7" rx="4" fill="#86d600"/>
<rect x="231.97" y="769.10" width="29" height="28.7" rx="4" fill="#86d600"/>
<rect x="265.24" y="769.10" width="29" height="28.7" rx="4" fill="#86d600"/>
<rect x="298.51" y="769.10" width="29" height="28.7" rx="4" fill="#86d600"/>
<rect x="331.78" y="769.10" width="29" height="28.7" rx="4" fill="#86d600"/>
<rect x="365.05" y="769.10" width="29" height="28.7" rx="4" fill="#86d600"/>
<rect x="398.32" y="769.10" width="29" height="28.7" rx="4" fill="#c0f744"/>
<rect x="431.59" y="769.10" width="29" height="28.7" rx="4" fill="#c0f744"/>
<rect x="464.86" y="769.10" width="29" height="28.7" rx="4" fill="#c0f744"/>
<rect x="498.13" y="769.10" width="29" height="28.7" rx="4" fill="#c0f744"/>
<rect x="531.40" y="769.10" width="29" height="28.7" rx="4" fill="#c0f744"/>
<rect x="564.67" y="769.10" width="29" height="28.7" rx="4" fill="#c0f744"/>
<text x="66.2" y="666.5" font-size="20.8" fill="#72b52a" font-weight="normal" text-anchor="start" textLength="117.10000000000001" lengthAdjust="spacingAndGlyphs">Lorem ipsum</text>
<text x="107.6" y="699.1" font-size="20.8" fill="#72b52a" font-weight="normal" text-anchor="start" textLength="75.70000000000002" lengthAdjust="spacingAndGlyphs">Dolor sit</text>
<text x="62.5" y="731.7" font-size="20.8" fill="#72b52a" font-weight="normal" text-anchor="start" textLength="120.80000000000001" lengthAdjust="spacingAndGlyphs">Consectetuer</text>
<text x="89.5" y="764.3" font-size="20.8" fill="#72b52a" font-weight="normal" text-anchor="start" textLength="93.80000000000001" lengthAdjust="spacingAndGlyphs">Adipiscing</text>
<text x="155.3" y="796.9" font-size="20.8" fill="#72b52a" font-weight="normal" text-anchor="start" textLength="28.0" lengthAdjust="spacingAndGlyphs">Elit</text>
<text x="604.5" y="665.6" font-size="21.5" fill="#737373" font-weight="normal" text-anchor="start" textLength="44" lengthAdjust="spacingAndGlyphs" stroke="#737373" stroke-width="0.45">12%</text>
<text x="604.5" y="698.4" font-size="21.5" fill="#737373" font-weight="normal" text-anchor="start" textLength="44" lengthAdjust="spacingAndGlyphs" stroke="#737373" stroke-width="0.45">23%</text>
<text x="604.5" y="731.2" font-size="21.5" fill="#737373" font-weight="normal" text-anchor="start" textLength="44" lengthAdjust="spacingAndGlyphs" stroke="#737373" stroke-width="0.45">27%</text>
<text x="604.5" y="764.0" font-size="21.5" fill="#737373" font-weight="normal" text-anchor="start" textLength="44" lengthAdjust="spacingAndGlyphs" stroke="#737373" stroke-width="0.45">25%</text>
<text x="604.5" y="796.8" font-size="21.5" fill="#737373" font-weight="normal" text-anchor="start" textLength="44" lengthAdjust="spacingAndGlyphs" stroke="#737373" stroke-width="0.45">13%</text>
<rect x="199.1" y="856.8" width="162.0" height="29.2" fill="#86d800"/>
<rect x="199.1" y="856.8" width="17.4" height="29.2" fill="#74bd08"/>
<text x="66.2" y="885.5" font-size="20.8" fill="#72b52a" font-weight="normal" text-anchor="start" textLength="117.10000000000001" lengthAdjust="spacingAndGlyphs">Lorem ipsum</text>
<text x="372.1" y="886.0" font-size="21.5" fill="#737373" font-weight="normal" text-anchor="start" textLength="44" lengthAdjust="spacingAndGlyphs" stroke="#737373" stroke-width="0.45">12%</text>
<rect x="199.1" y="890.7" width="304.9" height="29.2" fill="#86d800"/>
<rect x="199.1" y="890.7" width="17.4" height="29.2" fill="#74bd08"/>
<text x="107.6" y="919.4" font-size="20.8" fill="#72b52a" font-weight="normal" text-anchor="start" textLength="75.70000000000002" lengthAdjust="spacingAndGlyphs">Dolor sit</text>
<text x="515" y="919.9000000000001" font-size="21.5" fill="#737373" font-weight="normal" text-anchor="start" textLength="44" lengthAdjust="spacingAndGlyphs" stroke="#737373" stroke-width="0.45">25%</text>
<rect x="199.1" y="924.8" width="228.8" height="29.2" fill="#86d800"/>
<rect x="199.1" y="924.8" width="17.4" height="29.2" fill="#74bd08"/>
<text x="62.5" y="953.3" font-size="20.8" fill="#72b52a" font-weight="normal" text-anchor="start" textLength="120.80000000000001" lengthAdjust="spacingAndGlyphs">Consectetuer</text>
<text x="438.9" y="954.0" font-size="21.5" fill="#737373" font-weight="normal" text-anchor="start" textLength="44" lengthAdjust="spacingAndGlyphs" stroke="#737373" stroke-width="0.45">23%</text>
<rect x="199.1" y="958.6" width="394.6" height="29.2" fill="#86d800"/>
<rect x="199.1" y="958.6" width="17.4" height="29.2" fill="#74bd08"/>
<text x="89.5" y="987.2" font-size="20.8" fill="#72b52a" font-weight="normal" text-anchor="start" textLength="93.80000000000001" lengthAdjust="spacingAndGlyphs">Adipiscing</text>
<text x="604.7" y="987.8000000000001" font-size="21.5" fill="#737373" font-weight="normal" text-anchor="start" textLength="44" lengthAdjust="spacingAndGlyphs" stroke="#737373" stroke-width="0.45">27%</text>
<rect x="199.1" y="992.8" width="346.1" height="29.2" fill="#86d800"/>
<rect x="199.1" y="992.8" width="17.4" height="29.2" fill="#74bd08"/>
<text x="155.3" y="1021.1" font-size="20.8" fill="#72b52a" font-weight="normal" text-anchor="start" textLength="28.0" lengthAdjust="spacingAndGlyphs">Elit</text>
<text x="556.2" y="1022.0" font-size="21.5" fill="#737373" font-weight="normal" text-anchor="start" textLength="44" lengthAdjust="spacingAndGlyphs" stroke="#737373" stroke-width="0.45">13%</text>
<rect x="198.2" y="1343" width="29.6" height="86.0" fill="#00d7fe"/>
<rect x="235" y="1316" width="29.6" height="113.0" fill="#00d7fe"/>
<rect x="271.5" y="1275.7" width="29.6" height="153.3" fill="#00d7fe"/>
<rect x="308.1" y="1213.7" width="29.6" height="215.3" fill="#00d7fe"/>
<rect x="344.7" y="1245" width="29.6" height="184.0" fill="#00d7fe"/>
<rect x="381.6" y="1287.1" width="29.6" height="141.9" fill="#00d7fe"/>
<rect x="417.9" y="1225.1" width="29.6" height="203.9" fill="#00d7fe"/>
<rect x="454.7" y="1255.9" width="29.6" height="173.1" fill="#00d7fe"/>
<rect x="491.3" y="1155.3" width="29.6" height="273.7" fill="#00d7fe"/>
<rect x="528.1" y="1203" width="29.6" height="226.0" fill="#00d7fe"/>
<rect x="564.7" y="1123.1" width="29.6" height="305.9" fill="#00d7fe"/>
<defs><linearGradient id="callG" x1="0" y1="0" x2="0" y2="1"><stop offset="0" stop-color="#e4f7fd"/><stop offset="0.5" stop-color="#d2f1fb"/><stop offset="1" stop-color="#c3ebf9"/></linearGradient></defs>
<path d="M205.3,1201.3 L291,1201.3 L300.6,1213.05 L291,1224.8 L205.3,1224.8 Q201.3,1224.8 201.3,1220.8 L201.3,1205.3 Q201.3,1201.3 205.3,1201.3 Z" fill="url(#callG)"/>
<text x="221" y="1219.6" font-size="15.5" fill="#5f6a70" font-weight="normal" text-anchor="start" textLength="52.3" lengthAdjust="spacingAndGlyphs">10,35%</text>
<path d="M387.7,1143.3 L472.6,1143.3 L482.7,1155.35 L472.6,1167.4 L387.7,1167.4 Q383.7,1167.4 383.7,1163.4 L383.7,1147.3 Q383.7,1143.3 387.7,1143.3 Z" fill="url(#callG)"/>
<text x="403.2" y="1160.4" font-size="15.5" fill="#5f6a70" font-weight="normal" text-anchor="start" textLength="53.3" lengthAdjust="spacingAndGlyphs">15,75%</text>
<path d="M461.5,1111 L547,1111 L557.1,1123.1 L547,1135.2 L461.5,1135.2 Q457.5,1135.2 457.5,1131.2 L457.5,1115 Q457.5,1111 461.5,1111 Z" fill="url(#callG)"/>
<text x="476.6" y="1129.2" font-size="15.5" fill="#5f6a70" font-weight="normal" text-anchor="start" textLength="53.9" lengthAdjust="spacingAndGlyphs">23,15%</text>
<text x="739.5" y="949.1" font-size="33" fill="#767676" font-weight="normal" text-anchor="start" textLength="101" lengthAdjust="spacingAndGlyphs">Ratings</text>
<defs>
<linearGradient id="stF" x1="0.15" y1="0.1" x2="0.85" y2="0.9"><stop offset="0" stop-color="#fde9a6"/><stop offset="0.49" stop-color="#fdd56a"/><stop offset="0.5" stop-color="#fbb515"/><stop offset="1" stop-color="#f79a0c"/></linearGradient>
<linearGradient id="stB" x1="0.1" y1="0.1" x2="0.9" y2="0.9"><stop offset="0" stop-color="#fde58a"/><stop offset="1" stop-color="#f7a218"/></linearGradient>
<linearGradient id="grayF" x1="0.1" y1="0.1" x2="0.9" y2="0.9"><stop offset="0" stop-color="#ffffff"/><stop offset="1" stop-color="#d9d9d9"/></linearGradient>
<linearGradient id="ciF" x1="0.15" y1="0.15" x2="0.85" y2="0.85"><stop offset="0" stop-color="#c8eefc"/><stop offset="0.49" stop-color="#8ad8f8"/><stop offset="0.5" stop-color="#2cc4f8"/><stop offset="1" stop-color="#12a2ee"/></linearGradient>
<linearGradient id="ciB" x1="0.1" y1="0.1" x2="0.9" y2="0.9"><stop offset="0" stop-color="#c4ecfb"/><stop offset="1" stop-color="#18a6f0"/></linearGradient>
<linearGradient id="peF" x1="0.15" y1="0.1" x2="0.85" y2="0.9"><stop offset="0" stop-color="#e2f5b0"/><stop offset="0.49" stop-color="#cdee70"/><stop offset="0.5" stop-color="#b4e410"/><stop offset="1" stop-color="#82c800"/></linearGradient>
<linearGradient id="peB" x1="0.1" y1="0.1" x2="0.9" y2="0.9"><stop offset="0" stop-color="#dcf5a0"/><stop offset="1" stop-color="#86cc10"/></linearGradient>
</defs>
<path d="M769.54,999.98 Q765.50,991.80 761.46,999.98 L755.56,1011.94 Q755.21,1012.64 754.43,1012.76 L741.24,1014.67 Q732.21,1015.98 738.74,1022.35 L748.29,1031.66 Q748.86,1032.21 748.72,1032.99 L746.47,1046.13 Q744.93,1055.12 753.00,1050.87 L764.80,1044.67 Q765.50,1044.30 766.20,1044.67 L778.00,1050.87 Q786.07,1055.12 784.53,1046.13 L782.28,1032.99 Q782.14,1032.21 782.71,1031.66 L792.26,1022.35 Q798.79,1015.98 789.76,1014.67 L776.57,1012.76 Q775.79,1012.64 775.44,1011.94 Z" fill="url(#stF)"/>
<path d="M834.84,999.98 Q830.80,991.80 826.76,999.98 L820.86,1011.94 Q820.51,1012.64 819.73,1012.76 L806.54,1014.67 Q797.51,1015.98 804.04,1022.35 L813.59,1031.66 Q814.16,1032.21 814.02,1032.99 L811.77,1046.13 Q810.23,1055.12 818.30,1050.87 L830.10,1044.67 Q830.80,1044.30 831.50,1044.67 L843.30,1050.87 Q851.37,1055.12 849.83,1046.13 L847.58,1032.99 Q847.44,1032.21 848.01,1031.66 L857.56,1022.35 Q864.09,1015.98 855.06,1014.67 L841.87,1012.76 Q841.09,1012.64 840.74,1011.94 Z" fill="url(#stF)"/>
<path d="M900.04,999.98 Q896.00,991.80 891.96,999.98 L886.06,1011.94 Q885.71,1012.64 884.93,1012.76 L871.74,1014.67 Q862.71,1015.98 869.24,1022.35 L878.79,1031.66 Q879.36,1032.21 879.22,1032.99 L876.97,1046.13 Q875.43,1055.12 883.50,1050.87 L895.30,1044.67 Q896.00,1044.30 896.70,1044.67 L908.50,1050.87 Q916.57,1055.12 915.03,1046.13 L912.78,1032.99 Q912.64,1032.21 913.21,1031.66 L922.76,1022.35 Q929.29,1015.98 920.26,1014.67 L907.07,1012.76 Q906.29,1012.64 905.94,1011.94 Z" fill="url(#stF)"/>
<path d="M964.64,999.98 Q960.60,991.80 956.56,999.98 L950.66,1011.94 Q950.31,1012.64 949.53,1012.76 L936.34,1014.67 Q927.31,1015.98 933.84,1022.35 L943.39,1031.66 Q943.96,1032.21 943.82,1032.99 L941.57,1046.13 Q940.03,1055.12 948.10,1050.87 L959.90,1044.67 Q960.60,1044.30 961.30,1044.67 L973.10,1050.87 Q981.17,1055.12 979.63,1046.13 L977.38,1032.99 Q977.24,1032.21 977.81,1031.66 L987.36,1022.35 Q993.89,1015.98 984.86,1014.67 L971.67,1012.76 Q970.89,1012.64 970.54,1011.94 Z" fill="url(#stB)"/>
<path d="M963.31,1004.73 Q960.60,999.00 957.89,1004.73 L952.72,1015.64 Q952.49,1016.14 951.95,1016.21 L939.97,1017.75 Q933.69,1018.55 938.30,1022.90 L947.08,1031.19 Q947.48,1031.56 947.37,1032.10 L945.14,1043.97 Q943.97,1050.20 949.53,1047.15 L960.12,1041.36 Q960.60,1041.10 961.08,1041.36 L971.67,1047.15 Q977.23,1050.20 976.06,1043.97 L973.83,1032.10 Q973.72,1031.56 974.12,1031.19 L982.90,1022.90 Q987.51,1018.55 981.23,1017.75 L969.25,1016.21 Q968.71,1016.14 968.48,1015.64 Z" fill="url(#grayF)"/>
<path d="M1029.54,999.98 Q1025.50,991.80 1021.46,999.98 L1015.56,1011.94 Q1015.21,1012.64 1014.43,1012.76 L1001.24,1014.67 Q992.21,1015.98 998.74,1022.35 L1008.29,1031.66 Q1008.86,1032.21 1008.72,1032.99 L1006.47,1046.13 Q1004.93,1055.12 1013.00,1050.87 L1024.80,1044.67 Q1025.50,1044.30 1026.20,1044.67 L1038.00,1050.87 Q1046.07,1055.12 1044.53,1046.13 L1042.28,1032.99 Q1042.14,1032.21 1042.71,1031.66 L1052.26,1022.35 Q1058.79,1015.98 1049.76,1014.67 L1036.57,1012.76 Q1035.79,1012.64 1035.44,1011.94 Z" fill="url(#stB)"/>
<path d="M1028.21,1004.73 Q1025.50,999.00 1022.79,1004.73 L1017.62,1015.64 Q1017.39,1016.14 1016.85,1016.21 L1004.87,1017.75 Q998.59,1018.55 1003.20,1022.90 L1011.98,1031.19 Q1012.38,1031.56 1012.27,1032.10 L1010.04,1043.97 Q1008.87,1050.20 1014.43,1047.15 L1025.02,1041.36 Q1025.50,1041.10 1025.98,1041.36 L1036.57,1047.15 Q1042.13,1050.20 1040.96,1043.97 L1038.73,1032.10 Q1038.62,1031.56 1039.02,1031.19 L1047.80,1022.90 Q1052.41,1018.55 1046.13,1017.75 L1034.15,1016.21 Q1033.61,1016.14 1033.38,1015.64 Z" fill="url(#grayF)"/>
<path d="M1094.94,999.98 Q1090.90,991.80 1086.86,999.98 L1080.96,1011.94 Q1080.61,1012.64 1079.83,1012.76 L1066.64,1014.67 Q1057.61,1015.98 1064.14,1022.35 L1073.69,1031.66 Q1074.26,1032.21 1074.12,1032.99 L1071.87,1046.13 Q1070.33,1055.12 1078.40,1050.87 L1090.20,1044.67 Q1090.90,1044.30 1091.60,1044.67 L1103.40,1050.87 Q1111.47,1055.12 1109.93,1046.13 L1107.68,1032.99 Q1107.54,1032.21 1108.11,1031.66 L1117.66,1022.35 Q1124.19,1015.98 1115.16,1014.67 L1101.97,1012.76 Q1101.19,1012.64 1100.84,1011.94 Z" fill="url(#stB)"/>
<path d="M1093.61,1004.73 Q1090.90,999.00 1088.19,1004.73 L1083.02,1015.64 Q1082.79,1016.14 1082.25,1016.21 L1070.27,1017.75 Q1063.99,1018.55 1068.60,1022.90 L1077.38,1031.19 Q1077.78,1031.56 1077.67,1032.10 L1075.44,1043.97 Q1074.27,1050.20 1079.83,1047.15 L1090.42,1041.36 Q1090.90,1041.10 1091.38,1041.36 L1101.97,1047.15 Q1107.53,1050.20 1106.36,1043.97 L1104.13,1032.10 Q1104.02,1031.56 1104.42,1031.19 L1113.20,1022.90 Q1117.81,1018.55 1111.53,1017.75 L1099.55,1016.21 Q1099.01,1016.14 1098.78,1015.64 Z" fill="url(#grayF)"/>
<circle cx="766.3" cy="1104" r="27.3" fill="url(#ciF)"/>
<circle cx="766.3" cy="1104" r="25.8" fill="none" stroke="#ffffff" stroke-opacity="0.2" stroke-width="2.5"/>
<circle cx="831.5" cy="1104" r="27.3" fill="url(#ciF)"/>
<circle cx="831.5" cy="1104" r="25.8" fill="none" stroke="#ffffff" stroke-opacity="0.2" stroke-width="2.5"/>
<circle cx="896.7" cy="1104" r="27.3" fill="url(#ciF)"/>
<circle cx="896.7" cy="1104" r="25.8" fill="none" stroke="#ffffff" stroke-opacity="0.2" stroke-width="2.5"/>
<circle cx="961.2" cy="1104" r="27.3" fill="url(#ciF)"/>
<circle cx="961.2" cy="1104" r="25.8" fill="none" stroke="#ffffff" stroke-opacity="0.2" stroke-width="2.5"/>
<circle cx="1026" cy="1104" r="27.3" fill="url(#ciB)"/>
<circle cx="1026" cy="1104" r="23" fill="url(#grayF)"/>
<circle cx="1091.3" cy="1104" r="27.3" fill="url(#ciB)"/>
<circle cx="1091.3" cy="1104" r="23" fill="url(#grayF)"/>
<path d="M770.11,1157.19 Q766.00,1154.20 761.89,1157.19 L741.58,1171.94 Q737.47,1174.93 739.04,1179.77 L746.79,1203.63 Q748.37,1208.47 753.45,1208.47 L778.55,1208.47 Q783.63,1208.47 785.21,1203.63 L792.96,1179.77 Q794.53,1174.93 790.42,1171.94 Z" fill="url(#peF)"/>
<path d="M834.91,1157.19 Q830.80,1154.20 826.69,1157.19 L806.38,1171.94 Q802.27,1174.93 803.84,1179.77 L811.59,1203.63 Q813.17,1208.47 818.25,1208.47 L843.35,1208.47 Q848.43,1208.47 850.01,1203.63 L857.76,1179.77 Q859.33,1174.93 855.22,1171.94 Z" fill="url(#peF)"/>
<path d="M900.11,1157.19 Q896.00,1154.20 891.89,1157.19 L871.58,1171.94 Q867.47,1174.93 869.04,1179.77 L876.79,1203.63 Q878.37,1208.47 883.45,1208.47 L908.55,1208.47 Q913.63,1208.47 915.21,1203.63 L922.96,1179.77 Q924.53,1174.93 920.42,1171.94 Z" fill="url(#peF)"/>
<path d="M965.31,1157.19 Q961.20,1154.20 957.09,1157.19 L936.78,1171.94 Q932.67,1174.93 934.24,1179.77 L941.99,1203.63 Q943.57,1208.47 948.65,1208.47 L973.75,1208.47 Q978.83,1208.47 980.41,1203.63 L988.16,1179.77 Q989.73,1174.93 985.62,1171.94 Z" fill="url(#peF)"/>
<path d="M1030.11,1157.19 Q1026.00,1154.20 1021.89,1157.19 L1001.58,1171.94 Q997.47,1174.93 999.04,1179.77 L1006.79,1203.63 Q1008.37,1208.47 1013.45,1208.47 L1038.55,1208.47 Q1043.63,1208.47 1045.21,1203.63 L1052.96,1179.77 Q1054.53,1174.93 1050.42,1171.94 Z" fill="url(#peF)"/>
<path d="M1095.11,1157.19 Q1091.00,1154.20 1086.89,1157.19 L1066.58,1171.94 Q1062.47,1174.93 1064.04,1179.77 L1071.79,1203.63 Q1073.37,1208.47 1078.45,1208.47 L1103.55,1208.47 Q1108.63,1208.47 1110.21,1203.63 L1117.96,1179.77 Q1119.53,1174.93 1115.42,1171.94 Z" fill="url(#peB)"/>
<path d="M1093.94,1162.44 Q1091.00,1160.30 1088.06,1162.44 L1070.92,1174.89 Q1067.98,1177.02 1069.11,1180.48 L1075.65,1200.62 Q1076.78,1204.08 1080.41,1204.08 L1101.59,1204.08 Q1105.22,1204.08 1106.35,1200.62 L1112.89,1180.48 Q1114.02,1177.02 1111.08,1174.89 Z" fill="url(#grayF)"/>
<text x="1150.5" y="1036.4" font-size="28.5" fill="#747474" font-weight="normal" text-anchor="start" textLength="36" lengthAdjust="spacingAndGlyphs">3.2</text>
<text x="1192.5" y="1036.4" font-size="28.5" fill="#747474" font-weight="normal" text-anchor="start" textLength="10" lengthAdjust="spacingAndGlyphs">/</text>
<text x="1210" y="1036.4" font-size="28.5" fill="#f39a1e" font-weight="bold" text-anchor="start" textLength="16.5" lengthAdjust="spacingAndGlyphs">6</text>
<text x="1150.5" y="1116.4" font-size="28.5" fill="#747474" font-weight="normal" text-anchor="start" textLength="36" lengthAdjust="spacingAndGlyphs">4.0</text>
<text x="1192.5" y="1116.4" font-size="28.5" fill="#747474" font-weight="normal" text-anchor="start" textLength="10" lengthAdjust="spacingAndGlyphs">/</text>
<text x="1210" y="1116.4" font-size="28.5" fill="#1eaaf0" font-weight="bold" text-anchor="start" textLength="16.5" lengthAdjust="spacingAndGlyphs">6</text>
<text x="1150.5" y="1196.4" font-size="28.5" fill="#747474" font-weight="normal" text-anchor="start" textLength="36" lengthAdjust="spacingAndGlyphs">5.1</text>
<text x="1192.5" y="1196.4" font-size="28.5" fill="#747474" font-weight="normal" text-anchor="start" textLength="10" lengthAdjust="spacingAndGlyphs">/</text>
<text x="1210" y="1196.4" font-size="28.5" fill="#6abd1e" font-weight="bold" text-anchor="start" textLength="16.5" lengthAdjust="spacingAndGlyphs">6</text>
<text x="739" y="1284.6" font-size="21" fill="#a3a3a3" font-weight="normal" text-anchor="start" textLength="477" lengthAdjust="spacingAndGlyphs">Lorem ipsum dolor sit amet, consectetuer adipi-</text>
<text x="739" y="1313.1999999999998" font-size="21" fill="#a3a3a3" font-weight="normal" text-anchor="start" textLength="439" lengthAdjust="spacingAndGlyphs">scing elit, sed diam nonummy nibh euismod</text>
<text x="739" y="1341.8" font-size="21" fill="#a3a3a3" font-weight="normal" text-anchor="start" textLength="466" lengthAdjust="spacingAndGlyphs">tincidunt ut laoreet dolore magna aliquam erat</text>
<text x="739" y="1370.3999999999999" font-size="21" fill="#a3a3a3" font-weight="normal" text-anchor="start" textLength="445" lengthAdjust="spacingAndGlyphs">volutpat. Ut wisi enim ad minim veniam, quis</text>
<text x="739" y="1399.0" font-size="21" fill="#a3a3a3" font-weight="normal" text-anchor="start" textLength="478" lengthAdjust="spacingAndGlyphs">nostrud exerci tation ullamcorper suscipit lobor-</text>
<text x="739" y="1427.6" font-size="21" fill="#a3a3a3" font-weight="normal" text-anchor="start" textLength="441" lengthAdjust="spacingAndGlyphs">tis nisl ut aliquip ex ea commodo consequat.</text>
<rect x="0" y="1600" width="1320" height="90" fill="#0f77ae"/>
<path d="M33.6,1640 L33.6,1661 M33.6,1654.5 A5.7,6.5 0 1 0 33.6,1654.6 M42.7,1648 L42.7,1661 M42.7,1655 Q42.7,1648 50.5,1648 M56.3,1654.5 L68.2,1654.5 A5.950000000000003,6.5 0 1 0 66.7,1658.8 M87.5,1654.5 A6.5,6.5 0 1 0 87.5,1654.6 M87.5,1648 L87.5,1661 M95.5,1661 L95.5,1652 Q95.5,1648 100.325,1648 Q105.15,1648 105.15,1652 L105.15,1661 M105.15,1652 Q105.15,1648 109.97500000000001,1648 Q114.8,1648 114.8,1652 L114.8,1661 M122.8,1661 Q127.8,1661 128.4,1654.5 Q129,1648 134,1648 M142,1641 L142,1656 Q142,1661 147,1661 L150.5,1661 M142,1648 L150.5,1648 M160.4,1648 L160.4,1661 M169.8,1661 L169.8,1652 Q169.8,1648 174.35000000000002,1648 Q178.9,1648 178.9,1652 L178.9,1661 M178.9,1652 Q178.9,1648 183.45,1648 Q188,1648 188,1652 L188,1661 M197.7,1654.5 L208.5,1654.5 A5.400000000000006,6.5 0 1 0 207.0,1658.8 M233.5,1649.5 Q231.5,1648 228.8,1648 A5,6.5 0 0 0 228.8,1661 Q231.5,1661 233.5,1659.5 M248,1648 A7,6.5 0 1 0 248.01,1648 M262.5,1661 L262.5,1652 Q262.5,1648 267.025,1648 Q271.55,1648 271.55,1652 L271.55,1661 M271.55,1652 Q271.55,1648 276.07500000000005,1648 Q280.6,1648 280.6,1652 L280.6,1661" fill="none" stroke="#ffffff" stroke-width="4" stroke-linecap="round" stroke-linejoin="round"/>
<circle cx="216.2" cy="1660.8" r="2.4" fill="#fff"/>
<path d="M160.88,1635.12 L160.89,1635.08 L160.89,1635.04 L160.89,1634.99 L160.89,1634.95 L160.88,1634.90 L160.86,1634.86 L160.85,1634.81 L160.83,1634.77 L160.80,1634.73 L160.77,1634.68 L160.74,1634.64 L160.70,1634.60 L160.66,1634.56 L160.61,1634.53 L160.56,1634.50 L160.51,1634.47 L160.45,1634.44 L160.39,1634.42 L160.33,1634.40 L160.26,1634.38 L160.19,1634.37 L160.12,1634.36 L160.05,1634.36 L159.98,1634.36 L159.90,1634.37 L159.83,1634.39 L159.75,1634.40 L159.67,1634.43 L159.60,1634.46 L159.52,1634.49 L159.44,1634.53 L159.37,1634.58 L159.30,1634.63 L159.23,1634.69 L159.16,1634.75 L159.10,1634.82 L159.03,1634.90 L158.98,1634.97 L158.92,1635.06 L158.87,1635.15 L158.83,1635.24 L158.79,1635.34 L158.75,1635.44 L158.72,1635.54 L158.70,1635.65 L158.68,1635.76 L158.67,1635.87 L158.67,1635.99 L158.68,1636.11 L158.69,1636.22 L158.70,1636.34 L158.73,1636.46 L158.76,1636.58 L158.80,1636.70 L158.85,1636.82 L158.91,1636.94 L158.97,1637.05 L159.04,1637.17 L159.12,1637.27 L159.21,1637.38 L159.30,1637.48 L159.40,1637.58 L159.51,1637.67 L159.63,1637.76 L159.75,1637.84 L159.87,1637.92 L160.01,1637.99 L160.15,1638.05 L160.29,1638.11 L160.44,1638.15 L160.59,1638.19 L160.74,1638.22 L160.90,1638.24 L161.07,1638.25 L161.23,1638.26 L161.40,1638.25 L161.56,1638.23 L161.73,1638.21 L161.90,1638.17 L162.06,1638.12 L162.23,1638.07 L162.39,1638.00 L162.56,1637.93 L162.71,1637.84 L162.87,1637.74 L163.02,1637.64 L163.17,1637.52 L163.31,1637.40 L163.44,1637.26 L163.57,1637.12 L163.69,1636.97 L163.80,1636.81 L163.91,1636.64 L164.00,1636.47 L164.09,1636.29 L164.16,1636.10 L164.23,1635.90 L164.29,1635.71 L164.33,1635.50 L164.37,1635.30 L164.39,1635.09 L164.40,1634.87 L164.40,1634.66 L164.38,1634.44 L164.35,1634.22 L164.32,1634.01 L164.26,1633.79 L164.20,1633.57 L164.12,1633.36 L164.03,1633.15 L163.93,1632.94 L163.81,1632.74 L163.69,1632.55 L163.55,1632.36 L163.40,1632.17 L163.24,1632.00 L163.06,1631.83 L162.88,1631.67 L162.69,1631.52 L162.48,1631.38 L162.27,1631.25 L162.05,1631.13 L161.82,1631.03 L161.59,1630.93 L161.34,1630.85 L161.09,1630.78 L160.84,1630.73 L160.58,1630.69 L160.32,1630.67 L160.05,1630.65 L159.79,1630.66 L159.52,1630.68 L159.25,1630.71 L158.98,1630.76 L158.72,1630.83 L158.45,1630.91 L158.19,1631.00 L157.93,1631.12 L157.68,1631.24 L157.44,1631.38 L157.20,1631.54 L156.97,1631.71 L156.74,1631.89 L156.53,1632.09 L156.32,1632.30 L156.13,1632.52 L155.95,1632.76 L155.78,1633.00 L155.62,1633.26 L155.48,1633.52 L155.35,1633.80 L155.24,1634.08 L155.14,1634.38 L155.06,1634.67 L155.00,1634.98 L154.95,1635.29 L154.92,1635.60 L154.90,1635.92 L154.91,1636.24 L154.93,1636.56 L154.97,1636.88 L155.03,1637.20 L155.10,1637.51 L155.20,1637.83 L155.31,1638.14 L155.44,1638.44 L155.59,1638.74 L155.75,1639.03 L155.94,1639.32 L156.14,1639.59 L156.35,1639.86 L156.58,1640.11 L156.83,1640.35 L157.09,1640.58 L157.36,1640.79 L157.65,1640.99 L157.95,1641.18 L158.26,1641.35 L158.58,1641.50 L158.91,1641.64 L159.25,1641.75 L159.60,1641.85 L159.95,1641.93 L160.31,1641.99 L160.68,1642.03 L161.05,1642.05 L161.42,1642.05 L161.79,1642.02 L162.16,1641.98 L162.53,1641.92 L162.90,1641.83 L163.26,1641.73 L163.62,1641.60 L163.98,1641.45 L164.33,1641.29 L164.66,1641.10 L164.99,1640.89 L165.31,1640.66 L165.62,1640.42" fill="none" stroke="#fff" stroke-width="2.1" stroke-linecap="round"/>
<text x="1028" y="1653.6" font-size="24.7" fill="#ffffff" font-weight="bold" text-anchor="start" textLength="263" lengthAdjust="spacingAndGlyphs">ID 25392503 © Jack1e</text>
</svg></body></html>
